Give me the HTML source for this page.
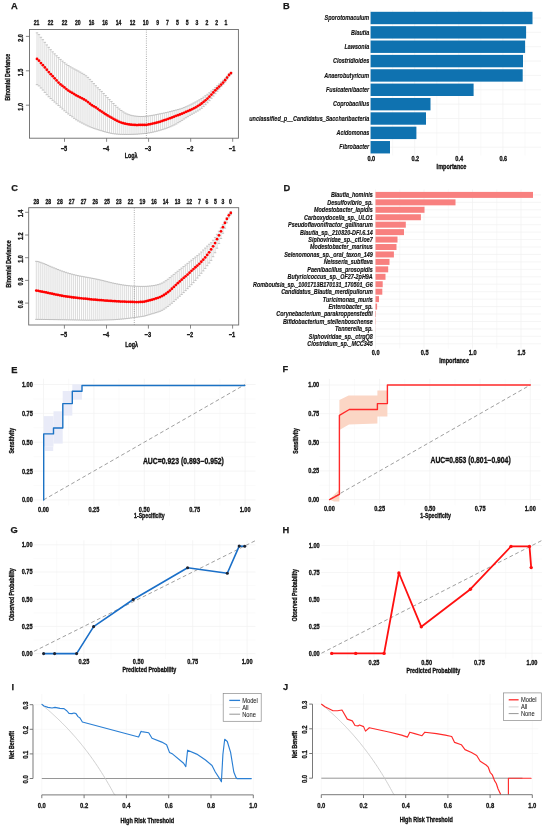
<!DOCTYPE html>
<html><head><meta charset="utf-8"><title>Figure</title>
<style>html,body{margin:0;padding:0;background:#fff;}svg{display:block;will-change:transform;}text{font-family:"Liberation Sans",sans-serif;}</style>
</head><body>
<svg width="550" height="828" viewBox="0 0 550 828" font-family="Liberation Sans, sans-serif">
<rect width="550" height="828" fill="#fff"/>
<path d="M37 32.84V84.66 M38.96 34.6V85.95 M40.92 37.28V88 M42.88 39.67V90.07 M44.84 42.34V92.38 M46.8 44.9V94.72 M48.76 47.33V96.75 M50.72 49.67V98.58 M52.68 51.84V100.33 M54.64 53.84V102.08 M56.6 55.73V103.82 M58.56 57.6V105.52 M60.52 59.41V107.21 M62.47 61.11V109 M64.43 62.7V110.78 M66.39 64.17V112.33 M68.35 65.53V113.97 M70.31 66.74V115.48 M72.27 67.87V116.84 M74.23 68.95V118.35 M76.19 69.96V119.77 M78.15 70.95V120.96 M80.11 72.05V122.04 M82.07 73.24V123.07 M84.03 74.36V124.08 M85.99 75.78V125.06 M87.95 77.38V125.99 M89.91 79.37V126.84 M91.87 81.45V127.61 M93.83 83.6V128.33 M95.79 85.71V129 M97.75 87.73V129.65 M99.71 89.59V130.25 M101.67 91.45V130.77 M103.63 93.47V131.44 M105.59 95.56V132.02 M107.55 97.57V132.5 M109.51 99.58V132.99 M111.46 101.57V133.41 M113.42 103.51V133.73 M115.38 105.43V133.98 M117.34 107.28V134.17 M119.3 108.96V134.3 M121.26 110.48V134.36 M123.22 111.85V134.39 M125.18 113.03V134.41 M127.14 113.98V134.42 M129.1 114.72V134.42 M131.06 115.3V134.39 M133.02 115.73V134.34 M134.98 116.04V134.27 M136.94 116.28V134.19 M138.9 116.44V134.03 M140.86 116.53V133.84 M142.82 116.49V133.68 M144.78 116.35V133.49 M146.74 116.17V133.25 M148.7 115.93V132.96 M150.66 115.64V132.61 M152.62 115.31V132.22 M154.58 114.95V131.78 M156.54 114.54V131.29 M158.49 114.12V130.77 M160.45 113.73V130.21 M162.41 113.35V129.62 M164.37 112.95V128.99 M166.33 112.51V128.3 M168.29 112.06V127.57 M170.25 111.56V126.78 M172.21 111.01V125.91 M174.17 110.55V125.02 M176.13 110.04V124.02 M178.09 109.5V122.76 M180.05 108.96V121.67 M182.01 108.35V120.4 M183.97 107.58V119.07 M185.93 106.78V117.8 M187.89 105.91V116.66 M189.85 104.99V115.36 M191.81 104V114.27 M193.77 102.98V113.19 M195.73 101.93V112.08 M197.69 100.86V111 M199.65 99.72V109.8 M201.61 98.47V108.32 M203.57 97.1V106.57 M205.53 95.7V104.7 M207.48 94.25V102.75 M209.44 92.76V100.65 M211.4 91.1V98.32 M213.36 89.41V96.04 M215.32 87.63V93.67 M217.28 85.76V91.22 M219.24 84.01V88.97 M221.2 82.06V86.57 M223.16 80.21V84.4 M225.12 78.28V82.05 M227.08 76.1V79.22 M229.04 73.87V76.27 M231 72.3V74.2" stroke="#d0d0d0" stroke-width="0.75" fill="none"/>
<path d="M35.8 32.84H38.2 M35.8 84.66H38.2 M37.76 34.6H40.16 M37.76 85.95H40.16 M39.72 37.28H42.12 M39.72 88H42.12 M41.68 39.67H44.08 M41.68 90.07H44.08 M43.64 42.34H46.04 M43.64 92.38H46.04 M45.6 44.9H48 M45.6 94.72H48 M47.56 47.33H49.96 M47.56 96.75H49.96 M49.52 49.67H51.92 M49.52 98.58H51.92 M51.48 51.84H53.88 M51.48 100.33H53.88 M53.44 53.84H55.84 M53.44 102.08H55.84 M55.4 55.73H57.8 M55.4 103.82H57.8 M57.36 57.6H59.76 M57.36 105.52H59.76 M59.32 59.41H61.72 M59.32 107.21H61.72 M61.27 61.11H63.67 M61.27 109H63.67 M63.23 62.7H65.63 M63.23 110.78H65.63 M65.19 64.17H67.59 M65.19 112.33H67.59 M67.15 65.53H69.55 M67.15 113.97H69.55 M69.11 66.74H71.51 M69.11 115.48H71.51 M71.07 67.87H73.47 M71.07 116.84H73.47 M73.03 68.95H75.43 M73.03 118.35H75.43 M74.99 69.96H77.39 M74.99 119.77H77.39 M76.95 70.95H79.35 M76.95 120.96H79.35 M78.91 72.05H81.31 M78.91 122.04H81.31 M80.87 73.24H83.27 M80.87 123.07H83.27 M82.83 74.36H85.23 M82.83 124.08H85.23 M84.79 75.78H87.19 M84.79 125.06H87.19 M86.75 77.38H89.15 M86.75 125.99H89.15 M88.71 79.37H91.11 M88.71 126.84H91.11 M90.67 81.45H93.07 M90.67 127.61H93.07 M92.63 83.6H95.03 M92.63 128.33H95.03 M94.59 85.71H96.99 M94.59 129H96.99 M96.55 87.73H98.95 M96.55 129.65H98.95 M98.51 89.59H100.91 M98.51 130.25H100.91 M100.47 91.45H102.87 M100.47 130.77H102.87 M102.43 93.47H104.83 M102.43 131.44H104.83 M104.39 95.56H106.79 M104.39 132.02H106.79 M106.35 97.57H108.75 M106.35 132.5H108.75 M108.31 99.58H110.71 M108.31 132.99H110.71 M110.26 101.57H112.66 M110.26 133.41H112.66 M112.22 103.51H114.62 M112.22 133.73H114.62 M114.18 105.43H116.58 M114.18 133.98H116.58 M116.14 107.28H118.54 M116.14 134.17H118.54 M118.1 108.96H120.5 M118.1 134.3H120.5 M120.06 110.48H122.46 M120.06 134.36H122.46 M122.02 111.85H124.42 M122.02 134.39H124.42 M123.98 113.03H126.38 M123.98 134.41H126.38 M125.94 113.98H128.34 M125.94 134.42H128.34 M127.9 114.72H130.3 M127.9 134.42H130.3 M129.86 115.3H132.26 M129.86 134.39H132.26 M131.82 115.73H134.22 M131.82 134.34H134.22 M133.78 116.04H136.18 M133.78 134.27H136.18 M135.74 116.28H138.14 M135.74 134.19H138.14 M137.7 116.44H140.1 M137.7 134.03H140.1 M139.66 116.53H142.06 M139.66 133.84H142.06 M141.62 116.49H144.02 M141.62 133.68H144.02 M143.58 116.35H145.98 M143.58 133.49H145.98 M145.54 116.17H147.94 M145.54 133.25H147.94 M147.5 115.93H149.9 M147.5 132.96H149.9 M149.46 115.64H151.86 M149.46 132.61H151.86 M151.42 115.31H153.82 M151.42 132.22H153.82 M153.38 114.95H155.78 M153.38 131.78H155.78 M155.34 114.54H157.74 M155.34 131.29H157.74 M157.29 114.12H159.69 M157.29 130.77H159.69 M159.25 113.73H161.65 M159.25 130.21H161.65 M161.21 113.35H163.61 M161.21 129.62H163.61 M163.17 112.95H165.57 M163.17 128.99H165.57 M165.13 112.51H167.53 M165.13 128.3H167.53 M167.09 112.06H169.49 M167.09 127.57H169.49 M169.05 111.56H171.45 M169.05 126.78H171.45 M171.01 111.01H173.41 M171.01 125.91H173.41 M172.97 110.55H175.37 M172.97 125.02H175.37 M174.93 110.04H177.33 M174.93 124.02H177.33 M176.89 109.5H179.29 M176.89 122.76H179.29 M178.85 108.96H181.25 M178.85 121.67H181.25 M180.81 108.35H183.21 M180.81 120.4H183.21 M182.77 107.58H185.17 M182.77 119.07H185.17 M184.73 106.78H187.13 M184.73 117.8H187.13 M186.69 105.91H189.09 M186.69 116.66H189.09 M188.65 104.99H191.05 M188.65 115.36H191.05 M190.61 104H193.01 M190.61 114.27H193.01 M192.57 102.98H194.97 M192.57 113.19H194.97 M194.53 101.93H196.93 M194.53 112.08H196.93 M196.49 100.86H198.89 M196.49 111H198.89 M198.45 99.72H200.85 M198.45 109.8H200.85 M200.41 98.47H202.81 M200.41 108.32H202.81 M202.37 97.1H204.77 M202.37 106.57H204.77 M204.33 95.7H206.73 M204.33 104.7H206.73 M206.28 94.25H208.68 M206.28 102.75H208.68 M208.24 92.76H210.64 M208.24 100.65H210.64 M210.2 91.1H212.6 M210.2 98.32H212.6 M212.16 89.41H214.56 M212.16 96.04H214.56 M214.12 87.63H216.52 M214.12 93.67H216.52 M216.08 85.76H218.48 M216.08 91.22H218.48 M218.04 84.01H220.44 M218.04 88.97H220.44 M220 82.06H222.4 M220 86.57H222.4 M221.96 80.21H224.36 M221.96 84.4H224.36 M223.92 78.28H226.32 M223.92 82.05H226.32 M225.88 76.1H228.28 M225.88 79.22H228.28 M227.84 73.87H230.24 M227.84 76.27H230.24 M229.8 72.3H232.2 M229.8 74.2H232.2" stroke="#a8a8a8" stroke-width="0.65" fill="none"/>
<line x1="146.4" y1="29.5" x2="146.4" y2="138.2" stroke="#8a8a8a" stroke-width="0.75" stroke-dasharray="0.9,1.3"/>
<g fill="#ff0000"><circle cx="37" cy="58.95" r="1.38"/><circle cx="38.96" cy="60.67" r="1.38"/><circle cx="40.92" cy="63.01" r="1.38"/><circle cx="42.88" cy="65.19" r="1.38"/><circle cx="44.84" cy="67.43" r="1.38"/><circle cx="46.8" cy="69.75" r="1.38"/><circle cx="48.76" cy="72.05" r="1.38"/><circle cx="50.72" cy="74.15" r="1.38"/><circle cx="52.68" cy="76.17" r="1.38"/><circle cx="54.64" cy="78.29" r="1.38"/><circle cx="56.6" cy="80.4" r="1.38"/><circle cx="58.56" cy="82.51" r="1.38"/><circle cx="60.52" cy="84.43" r="1.38"/><circle cx="62.47" cy="85.91" r="1.38"/><circle cx="64.43" cy="87.4" r="1.38"/><circle cx="66.39" cy="89.05" r="1.38"/><circle cx="68.35" cy="90.61" r="1.38"/><circle cx="70.31" cy="91.83" r="1.38"/><circle cx="72.27" cy="92.95" r="1.38"/><circle cx="74.23" cy="94.11" r="1.38"/><circle cx="76.19" cy="95.28" r="1.38"/><circle cx="78.15" cy="96.35" r="1.38"/><circle cx="80.11" cy="97.33" r="1.38"/><circle cx="82.07" cy="98.35" r="1.38"/><circle cx="84.03" cy="99.43" r="1.38"/><circle cx="85.99" cy="100.62" r="1.38"/><circle cx="87.95" cy="102.1" r="1.38"/><circle cx="89.91" cy="103.74" r="1.38"/><circle cx="91.87" cy="105.14" r="1.38"/><circle cx="93.83" cy="106.29" r="1.38"/><circle cx="95.79" cy="107.49" r="1.38"/><circle cx="97.75" cy="108.86" r="1.38"/><circle cx="99.71" cy="110.29" r="1.38"/><circle cx="101.67" cy="111.6" r="1.38"/><circle cx="103.63" cy="112.93" r="1.38"/><circle cx="105.59" cy="114.23" r="1.38"/><circle cx="107.55" cy="115.4" r="1.38"/><circle cx="109.51" cy="116.59" r="1.38"/><circle cx="111.46" cy="117.74" r="1.38"/><circle cx="113.42" cy="118.86" r="1.38"/><circle cx="115.38" cy="119.95" r="1.38"/><circle cx="117.34" cy="120.94" r="1.38"/><circle cx="119.3" cy="121.78" r="1.38"/><circle cx="121.26" cy="122.52" r="1.38"/><circle cx="123.22" cy="123.15" r="1.38"/><circle cx="125.18" cy="123.68" r="1.38"/><circle cx="127.14" cy="124.09" r="1.38"/><circle cx="129.1" cy="124.41" r="1.38"/><circle cx="131.06" cy="124.67" r="1.38"/><circle cx="133.02" cy="124.84" r="1.38"/><circle cx="134.98" cy="124.94" r="1.38"/><circle cx="136.94" cy="125.01" r="1.38"/><circle cx="138.9" cy="124.95" r="1.38"/><circle cx="140.86" cy="124.9" r="1.38"/><circle cx="142.82" cy="124.92" r="1.38"/><circle cx="144.78" cy="124.9" r="1.38"/><circle cx="146.74" cy="124.76" r="1.38"/><circle cx="148.7" cy="124.46" r="1.38"/><circle cx="150.66" cy="124.06" r="1.38"/><circle cx="152.62" cy="123.62" r="1.38"/><circle cx="154.58" cy="123.18" r="1.38"/><circle cx="156.54" cy="122.7" r="1.38"/><circle cx="158.49" cy="122.18" r="1.38"/><circle cx="160.45" cy="121.57" r="1.38"/><circle cx="162.41" cy="120.89" r="1.38"/><circle cx="164.37" cy="120.19" r="1.38"/><circle cx="166.33" cy="119.51" r="1.38"/><circle cx="168.29" cy="118.83" r="1.38"/><circle cx="170.25" cy="118.17" r="1.38"/><circle cx="172.21" cy="117.48" r="1.38"/><circle cx="174.17" cy="116.63" r="1.38"/><circle cx="176.13" cy="115.85" r="1.38"/><circle cx="178.09" cy="115.16" r="1.38"/><circle cx="180.05" cy="114.43" r="1.38"/><circle cx="182.01" cy="113.66" r="1.38"/><circle cx="183.97" cy="112.84" r="1.38"/><circle cx="185.93" cy="111.99" r="1.38"/><circle cx="187.89" cy="111.12" r="1.38"/><circle cx="189.85" cy="110.25" r="1.38"/><circle cx="191.81" cy="109.35" r="1.38"/><circle cx="193.77" cy="108.37" r="1.38"/><circle cx="195.73" cy="107.28" r="1.38"/><circle cx="197.69" cy="106.09" r="1.38"/><circle cx="199.65" cy="104.89" r="1.38"/><circle cx="201.61" cy="103.5" r="1.38"/><circle cx="203.57" cy="101.99" r="1.38"/><circle cx="205.53" cy="100.32" r="1.38"/><circle cx="207.48" cy="98.56" r="1.38"/><circle cx="209.44" cy="96.66" r="1.38"/><circle cx="211.4" cy="94.59" r="1.38"/><circle cx="213.36" cy="92.42" r="1.38"/><circle cx="215.32" cy="90.37" r="1.38"/><circle cx="217.28" cy="88.48" r="1.38"/><circle cx="219.24" cy="86.56" r="1.38"/><circle cx="221.2" cy="84.59" r="1.38"/><circle cx="223.16" cy="82.53" r="1.38"/><circle cx="225.12" cy="80.21" r="1.38"/><circle cx="227.08" cy="77.59" r="1.38"/><circle cx="229.04" cy="74.95" r="1.38"/><circle cx="231" cy="73.1" r="1.38"/></g>
<rect x="29.5" y="29.5" width="208.9" height="108.7" fill="none" stroke="#6a6a6a" stroke-width="0.9"/>
<line x1="25.9" y1="36.4" x2="29.5" y2="36.4" stroke="#6a6a6a" stroke-width="0.8"/>
<text transform="translate(23.09,38) rotate(-90) scale(0.78,1)" font-size="7.1" text-anchor="middle" font-weight="bold" font-style="normal" fill="#111" stroke="#111" stroke-width="0.32">2.0</text>
<line x1="25.9" y1="70.8" x2="29.5" y2="70.8" stroke="#6a6a6a" stroke-width="0.8"/>
<text transform="translate(23.09,72.4) rotate(-90) scale(0.78,1)" font-size="7.1" text-anchor="middle" font-weight="bold" font-style="normal" fill="#111" stroke="#111" stroke-width="0.32">1.5</text>
<line x1="25.9" y1="105.2" x2="29.5" y2="105.2" stroke="#6a6a6a" stroke-width="0.8"/>
<text transform="translate(23.09,106.8) rotate(-90) scale(0.78,1)" font-size="7.1" text-anchor="middle" font-weight="bold" font-style="normal" fill="#111" stroke="#111" stroke-width="0.32">1.0</text>
<line x1="64.5" y1="138.2" x2="64.5" y2="141.8" stroke="#6a6a6a" stroke-width="0.8"/>
<text transform="translate(63.9,150.89) scale(0.8,1)" font-size="7.1" text-anchor="middle" font-weight="bold" font-style="normal" fill="#111" stroke="#111" stroke-width="0.32">−5</text>
<line x1="106.6" y1="138.2" x2="106.6" y2="141.8" stroke="#6a6a6a" stroke-width="0.8"/>
<text transform="translate(106,150.89) scale(0.8,1)" font-size="7.1" text-anchor="middle" font-weight="bold" font-style="normal" fill="#111" stroke="#111" stroke-width="0.32">−4</text>
<line x1="148.6" y1="138.2" x2="148.6" y2="141.8" stroke="#6a6a6a" stroke-width="0.8"/>
<text transform="translate(148,150.89) scale(0.8,1)" font-size="7.1" text-anchor="middle" font-weight="bold" font-style="normal" fill="#111" stroke="#111" stroke-width="0.32">−3</text>
<line x1="190.7" y1="138.2" x2="190.7" y2="141.8" stroke="#6a6a6a" stroke-width="0.8"/>
<text transform="translate(190.1,150.89) scale(0.8,1)" font-size="7.1" text-anchor="middle" font-weight="bold" font-style="normal" fill="#111" stroke="#111" stroke-width="0.32">−2</text>
<line x1="232.7" y1="138.2" x2="232.7" y2="141.8" stroke="#6a6a6a" stroke-width="0.8"/>
<text transform="translate(232.1,150.89) scale(0.8,1)" font-size="7.1" text-anchor="middle" font-weight="bold" font-style="normal" fill="#111" stroke="#111" stroke-width="0.32">−1</text>
<text transform="translate(36.6,25.43) scale(0.68,1)" font-size="7.5" text-anchor="middle" font-weight="bold" font-style="normal" fill="#111" stroke="#111" stroke-width="0.32">21</text>
<text transform="translate(50.5,25.43) scale(0.68,1)" font-size="7.5" text-anchor="middle" font-weight="bold" font-style="normal" fill="#111" stroke="#111" stroke-width="0.32">22</text>
<text transform="translate(64.5,25.43) scale(0.68,1)" font-size="7.5" text-anchor="middle" font-weight="bold" font-style="normal" fill="#111" stroke="#111" stroke-width="0.32">22</text>
<text transform="translate(77.8,25.43) scale(0.68,1)" font-size="7.5" text-anchor="middle" font-weight="bold" font-style="normal" fill="#111" stroke="#111" stroke-width="0.32">20</text>
<text transform="translate(91.5,25.43) scale(0.68,1)" font-size="7.5" text-anchor="middle" font-weight="bold" font-style="normal" fill="#111" stroke="#111" stroke-width="0.32">16</text>
<text transform="translate(105,25.43) scale(0.68,1)" font-size="7.5" text-anchor="middle" font-weight="bold" font-style="normal" fill="#111" stroke="#111" stroke-width="0.32">16</text>
<text transform="translate(118.5,25.43) scale(0.68,1)" font-size="7.5" text-anchor="middle" font-weight="bold" font-style="normal" fill="#111" stroke="#111" stroke-width="0.32">14</text>
<text transform="translate(132.6,25.43) scale(0.68,1)" font-size="7.5" text-anchor="middle" font-weight="bold" font-style="normal" fill="#111" stroke="#111" stroke-width="0.32">12</text>
<text transform="translate(145.7,25.43) scale(0.68,1)" font-size="7.5" text-anchor="middle" font-weight="bold" font-style="normal" fill="#111" stroke="#111" stroke-width="0.32">10</text>
<text transform="translate(157.7,25.43) scale(0.68,1)" font-size="7.5" text-anchor="middle" font-weight="bold" font-style="normal" fill="#111" stroke="#111" stroke-width="0.32">9</text>
<text transform="translate(167.5,25.43) scale(0.68,1)" font-size="7.5" text-anchor="middle" font-weight="bold" font-style="normal" fill="#111" stroke="#111" stroke-width="0.32">7</text>
<text transform="translate(177.3,25.43) scale(0.68,1)" font-size="7.5" text-anchor="middle" font-weight="bold" font-style="normal" fill="#111" stroke="#111" stroke-width="0.32">5</text>
<text transform="translate(187.2,25.43) scale(0.68,1)" font-size="7.5" text-anchor="middle" font-weight="bold" font-style="normal" fill="#111" stroke="#111" stroke-width="0.32">5</text>
<text transform="translate(197,25.43) scale(0.68,1)" font-size="7.5" text-anchor="middle" font-weight="bold" font-style="normal" fill="#111" stroke="#111" stroke-width="0.32">3</text>
<text transform="translate(206.8,25.43) scale(0.68,1)" font-size="7.5" text-anchor="middle" font-weight="bold" font-style="normal" fill="#111" stroke="#111" stroke-width="0.32">2</text>
<text transform="translate(216.6,25.43) scale(0.68,1)" font-size="7.5" text-anchor="middle" font-weight="bold" font-style="normal" fill="#111" stroke="#111" stroke-width="0.32">2</text>
<text transform="translate(226,25.43) scale(0.68,1)" font-size="7.5" text-anchor="middle" font-weight="bold" font-style="normal" fill="#111" stroke="#111" stroke-width="0.32">1</text>
<text transform="translate(131,158.21) scale(0.85,1)" font-size="6.3" text-anchor="middle" font-weight="bold" font-style="normal" fill="#111" stroke="#111" stroke-width="0.32">Logλ</text>
<text transform="translate(10.34,77.2) rotate(-90) scale(0.82,1)" font-size="6.4" text-anchor="middle" font-weight="bold" font-style="normal" fill="#111" stroke="#111" stroke-width="0.32">Binomial Deviance</text>
<text x="11" y="9.1" font-size="9.3" font-weight="bold" fill="#1a1a1a" stroke="#1a1a1a" stroke-width="0.25">A</text>
<path d="M36.3 261.34V319.4 M38.26 261.64V319.42 M40.23 262.25V319.43 M42.19 262.98V319.45 M44.16 263.69V319.47 M46.12 264.51V319.5 M48.09 265.39V319.52 M50.05 266.27V319.55 M52.02 267.09V319.57 M53.98 267.88V319.6 M55.95 268.69V319.63 M57.91 269.49V319.67 M59.88 270.26V319.7 M61.84 270.99V319.73 M63.81 271.68V319.76 M65.77 272.33V319.8 M67.73 272.95V319.84 M69.7 273.54V319.88 M71.66 274.09V319.92 M73.63 274.61V319.96 M75.59 275.08V320.01 M77.56 275.53V320.05 M79.52 275.93V320.08 M81.49 276.3V320.12 M83.45 276.64V320.15 M85.42 277.03V320.17 M87.38 277.37V320.19 M89.35 277.73V320.2 M91.31 278.11V320.2 M93.27 278.46V320.19 M95.24 278.86V320.18 M97.2 279.28V320.15 M99.17 279.71V320.12 M101.13 280.15V320.08 M103.1 280.62V320.03 M105.06 281.12V319.98 M107.03 281.63V319.93 M108.99 282.13V319.88 M110.96 282.61V319.82 M112.92 283.05V319.74 M114.89 283.46V319.62 M116.85 283.86V319.48 M118.82 284.24V319.34 M120.78 284.59V319.18 M122.74 284.91V319 M124.71 285.19V318.8 M126.67 285.44V318.58 M128.64 285.67V318.34 M130.6 285.86V318.09 M132.57 286.02V317.84 M134.53 286.16V317.57 M136.5 286.26V317.3 M138.46 286.33V317.01 M140.43 286.38V316.72 M142.39 286.4V316.42 M144.36 286.4V316.12 M146.32 286.33V315.54 M148.28 286.18V314.93 M150.25 285.97V314.33 M152.21 285.75V313.76 M154.18 285.46V313.2 M156.14 285.06V312.6 M158.11 284.58V311.99 M160.07 283.94V311.27 M162.04 283.06V310.33 M164 281.96V309.18 M165.97 280.7V307.9 M167.93 279.24V306.47 M169.9 277.6V304.9 M171.86 275.95V303.25 M173.83 274.38V301.54 M175.79 272.8V299.76 M177.75 271.23V297.99 M179.72 269.67V296.24 M181.68 268.11V294.46 M183.65 266.55V292.59 M185.61 264.98V290.62 M187.58 263.4V288.63 M189.54 261.8V286.66 M191.51 260.2V284.7 M193.47 258.6V282.64 M195.44 257.09V280.4 M197.4 255.6V278.04 M199.37 253.96V275.68 M201.33 252.03V273.29 M203.29 250.03V270.92 M205.26 248.08V268.42 M207.22 246.11V265.69 M209.19 244.29V263.03 M211.15 242.72V260.38 M213.12 240.24V256.68 M215.08 237.45V252.73 M217.05 234.31V248.23 M219.01 231.2V243.56 M220.98 227.98V238.5 M222.94 224.64V233.27 M224.91 221.23V228.21 M226.87 217.41V222.81 M228.84 213.86V217.87 M230.8 211.57V214.68" stroke="#d0d0d0" stroke-width="0.75" fill="none"/>
<path d="M35.1 261.34H37.5 M35.1 319.4H37.5 M37.06 261.64H39.46 M37.06 319.42H39.46 M39.03 262.25H41.43 M39.03 319.43H41.43 M40.99 262.98H43.39 M40.99 319.45H43.39 M42.96 263.69H45.36 M42.96 319.47H45.36 M44.92 264.51H47.32 M44.92 319.5H47.32 M46.89 265.39H49.29 M46.89 319.52H49.29 M48.85 266.27H51.25 M48.85 319.55H51.25 M50.82 267.09H53.22 M50.82 319.57H53.22 M52.78 267.88H55.18 M52.78 319.6H55.18 M54.75 268.69H57.15 M54.75 319.63H57.15 M56.71 269.49H59.11 M56.71 319.67H59.11 M58.68 270.26H61.08 M58.68 319.7H61.08 M60.64 270.99H63.04 M60.64 319.73H63.04 M62.61 271.68H65.01 M62.61 319.76H65.01 M64.57 272.33H66.97 M64.57 319.8H66.97 M66.53 272.95H68.93 M66.53 319.84H68.93 M68.5 273.54H70.9 M68.5 319.88H70.9 M70.46 274.09H72.86 M70.46 319.92H72.86 M72.43 274.61H74.83 M72.43 319.96H74.83 M74.39 275.08H76.79 M74.39 320.01H76.79 M76.36 275.53H78.76 M76.36 320.05H78.76 M78.32 275.93H80.72 M78.32 320.08H80.72 M80.29 276.3H82.69 M80.29 320.12H82.69 M82.25 276.64H84.65 M82.25 320.15H84.65 M84.22 277.03H86.62 M84.22 320.17H86.62 M86.18 277.37H88.58 M86.18 320.19H88.58 M88.15 277.73H90.55 M88.15 320.2H90.55 M90.11 278.11H92.51 M90.11 320.2H92.51 M92.07 278.46H94.47 M92.07 320.19H94.47 M94.04 278.86H96.44 M94.04 320.18H96.44 M96 279.28H98.4 M96 320.15H98.4 M97.97 279.71H100.37 M97.97 320.12H100.37 M99.93 280.15H102.33 M99.93 320.08H102.33 M101.9 280.62H104.3 M101.9 320.03H104.3 M103.86 281.12H106.26 M103.86 319.98H106.26 M105.83 281.63H108.23 M105.83 319.93H108.23 M107.79 282.13H110.19 M107.79 319.88H110.19 M109.76 282.61H112.16 M109.76 319.82H112.16 M111.72 283.05H114.12 M111.72 319.74H114.12 M113.69 283.46H116.09 M113.69 319.62H116.09 M115.65 283.86H118.05 M115.65 319.48H118.05 M117.62 284.24H120.02 M117.62 319.34H120.02 M119.58 284.59H121.98 M119.58 319.18H121.98 M121.54 284.91H123.94 M121.54 319H123.94 M123.51 285.19H125.91 M123.51 318.8H125.91 M125.47 285.44H127.87 M125.47 318.58H127.87 M127.44 285.67H129.84 M127.44 318.34H129.84 M129.4 285.86H131.8 M129.4 318.09H131.8 M131.37 286.02H133.77 M131.37 317.84H133.77 M133.33 286.16H135.73 M133.33 317.57H135.73 M135.3 286.26H137.7 M135.3 317.3H137.7 M137.26 286.33H139.66 M137.26 317.01H139.66 M139.23 286.38H141.63 M139.23 316.72H141.63 M141.19 286.4H143.59 M141.19 316.42H143.59 M143.16 286.4H145.56 M143.16 316.12H145.56 M145.12 286.33H147.52 M145.12 315.54H147.52 M147.08 286.18H149.48 M147.08 314.93H149.48 M149.05 285.97H151.45 M149.05 314.33H151.45 M151.01 285.75H153.41 M151.01 313.76H153.41 M152.98 285.46H155.38 M152.98 313.2H155.38 M154.94 285.06H157.34 M154.94 312.6H157.34 M156.91 284.58H159.31 M156.91 311.99H159.31 M158.87 283.94H161.27 M158.87 311.27H161.27 M160.84 283.06H163.24 M160.84 310.33H163.24 M162.8 281.96H165.2 M162.8 309.18H165.2 M164.77 280.7H167.17 M164.77 307.9H167.17 M166.73 279.24H169.13 M166.73 306.47H169.13 M168.7 277.6H171.1 M168.7 304.9H171.1 M170.66 275.95H173.06 M170.66 303.25H173.06 M172.63 274.38H175.03 M172.63 301.54H175.03 M174.59 272.8H176.99 M174.59 299.76H176.99 M176.55 271.23H178.95 M176.55 297.99H178.95 M178.52 269.67H180.92 M178.52 296.24H180.92 M180.48 268.11H182.88 M180.48 294.46H182.88 M182.45 266.55H184.85 M182.45 292.59H184.85 M184.41 264.98H186.81 M184.41 290.62H186.81 M186.38 263.4H188.78 M186.38 288.63H188.78 M188.34 261.8H190.74 M188.34 286.66H190.74 M190.31 260.2H192.71 M190.31 284.7H192.71 M192.27 258.6H194.67 M192.27 282.64H194.67 M194.24 257.09H196.64 M194.24 280.4H196.64 M196.2 255.6H198.6 M196.2 278.04H198.6 M198.17 253.96H200.57 M198.17 275.68H200.57 M200.13 252.03H202.53 M200.13 273.29H202.53 M202.09 250.03H204.49 M202.09 270.92H204.49 M204.06 248.08H206.46 M204.06 268.42H206.46 M206.02 246.11H208.42 M206.02 265.69H208.42 M207.99 244.29H210.39 M207.99 263.03H210.39 M209.95 242.72H212.35 M209.95 260.38H212.35 M211.92 240.24H214.32 M211.92 256.68H214.32 M213.88 237.45H216.28 M213.88 252.73H216.28 M215.85 234.31H218.25 M215.85 248.23H218.25 M217.81 231.2H220.21 M217.81 243.56H220.21 M219.78 227.98H222.18 M219.78 238.5H222.18 M221.74 224.64H224.14 M221.74 233.27H224.14 M223.71 221.23H226.11 M223.71 228.21H226.11 M225.67 217.41H228.07 M225.67 222.81H228.07 M227.64 213.86H230.04 M227.64 217.87H230.04 M229.6 211.57H232 M229.6 214.68H232" stroke="#a8a8a8" stroke-width="0.65" fill="none"/>
<line x1="134.3" y1="207.7" x2="134.3" y2="325" stroke="#8a8a8a" stroke-width="0.75" stroke-dasharray="0.9,1.3"/>
<g fill="#ff0000"><circle cx="36.3" cy="290.53" r="1.38"/><circle cx="38.26" cy="290.83" r="1.38"/><circle cx="40.23" cy="291.29" r="1.38"/><circle cx="42.19" cy="291.71" r="1.38"/><circle cx="44.16" cy="292.07" r="1.38"/><circle cx="46.12" cy="292.48" r="1.38"/><circle cx="48.09" cy="292.9" r="1.38"/><circle cx="50.05" cy="293.33" r="1.38"/><circle cx="52.02" cy="293.74" r="1.38"/><circle cx="53.98" cy="294.15" r="1.38"/><circle cx="55.95" cy="294.56" r="1.38"/><circle cx="57.91" cy="294.97" r="1.38"/><circle cx="59.88" cy="295.37" r="1.38"/><circle cx="61.84" cy="295.75" r="1.38"/><circle cx="63.81" cy="296.09" r="1.38"/><circle cx="65.77" cy="296.41" r="1.38"/><circle cx="67.73" cy="296.71" r="1.38"/><circle cx="69.7" cy="296.99" r="1.38"/><circle cx="71.66" cy="297.25" r="1.38"/><circle cx="73.63" cy="297.5" r="1.38"/><circle cx="75.59" cy="297.74" r="1.38"/><circle cx="77.56" cy="297.95" r="1.38"/><circle cx="79.52" cy="298.15" r="1.38"/><circle cx="81.49" cy="298.34" r="1.38"/><circle cx="83.45" cy="298.51" r="1.38"/><circle cx="85.42" cy="298.74" r="1.38"/><circle cx="87.38" cy="298.98" r="1.38"/><circle cx="89.35" cy="299.21" r="1.38"/><circle cx="91.31" cy="299.4" r="1.38"/><circle cx="93.27" cy="299.56" r="1.38"/><circle cx="95.24" cy="299.73" r="1.38"/><circle cx="97.2" cy="299.89" r="1.38"/><circle cx="99.17" cy="300.06" r="1.38"/><circle cx="101.13" cy="300.22" r="1.38"/><circle cx="103.1" cy="300.37" r="1.38"/><circle cx="105.06" cy="300.52" r="1.38"/><circle cx="107.03" cy="300.67" r="1.38"/><circle cx="108.99" cy="300.81" r="1.38"/><circle cx="110.96" cy="300.94" r="1.38"/><circle cx="112.92" cy="301.07" r="1.38"/><circle cx="114.89" cy="301.19" r="1.38"/><circle cx="116.85" cy="301.3" r="1.38"/><circle cx="118.82" cy="301.41" r="1.38"/><circle cx="120.78" cy="301.51" r="1.38"/><circle cx="122.74" cy="301.6" r="1.38"/><circle cx="124.71" cy="301.69" r="1.38"/><circle cx="126.67" cy="301.78" r="1.38"/><circle cx="128.64" cy="301.86" r="1.38"/><circle cx="130.6" cy="301.92" r="1.38"/><circle cx="132.57" cy="301.98" r="1.38"/><circle cx="134.53" cy="302.02" r="1.38"/><circle cx="136.5" cy="302.05" r="1.38"/><circle cx="138.46" cy="302.04" r="1.38"/><circle cx="140.43" cy="301.98" r="1.38"/><circle cx="142.39" cy="301.88" r="1.38"/><circle cx="144.36" cy="301.63" r="1.38"/><circle cx="146.32" cy="301.21" r="1.38"/><circle cx="148.28" cy="300.68" r="1.38"/><circle cx="150.25" cy="300.13" r="1.38"/><circle cx="152.21" cy="299.63" r="1.38"/><circle cx="154.18" cy="299.1" r="1.38"/><circle cx="156.14" cy="298.49" r="1.38"/><circle cx="158.11" cy="297.84" r="1.38"/><circle cx="160.07" cy="297.08" r="1.38"/><circle cx="162.04" cy="296.12" r="1.38"/><circle cx="164" cy="295" r="1.38"/><circle cx="165.97" cy="293.71" r="1.38"/><circle cx="167.93" cy="292.21" r="1.38"/><circle cx="169.9" cy="290.52" r="1.38"/><circle cx="171.86" cy="288.75" r="1.38"/><circle cx="173.83" cy="286.91" r="1.38"/><circle cx="175.79" cy="285.02" r="1.38"/><circle cx="177.75" cy="283.18" r="1.38"/><circle cx="179.72" cy="281.42" r="1.38"/><circle cx="181.68" cy="279.7" r="1.38"/><circle cx="183.65" cy="277.98" r="1.38"/><circle cx="185.61" cy="276.28" r="1.38"/><circle cx="187.58" cy="274.56" r="1.38"/><circle cx="189.54" cy="272.75" r="1.38"/><circle cx="191.51" cy="270.87" r="1.38"/><circle cx="193.47" cy="269.02" r="1.38"/><circle cx="195.44" cy="267.25" r="1.38"/><circle cx="197.4" cy="265.52" r="1.38"/><circle cx="199.37" cy="263.8" r="1.38"/><circle cx="201.33" cy="261.75" r="1.38"/><circle cx="203.29" cy="259.67" r="1.38"/><circle cx="205.26" cy="257.43" r="1.38"/><circle cx="207.22" cy="254.96" r="1.38"/><circle cx="209.19" cy="252.3" r="1.38"/><circle cx="211.15" cy="249.42" r="1.38"/><circle cx="213.12" cy="246.34" r="1.38"/><circle cx="215.08" cy="243.05" r="1.38"/><circle cx="217.05" cy="239.24" r="1.38"/><circle cx="219.01" cy="235.28" r="1.38"/><circle cx="220.98" cy="231.28" r="1.38"/><circle cx="222.94" cy="227.19" r="1.38"/><circle cx="224.91" cy="222.94" r="1.38"/><circle cx="226.87" cy="218.99" r="1.38"/><circle cx="228.84" cy="215.35" r="1.38"/><circle cx="230.8" cy="212.99" r="1.38"/></g>
<rect x="28.7" y="207.7" width="210" height="117.3" fill="none" stroke="#6a6a6a" stroke-width="0.9"/>
<line x1="25.1" y1="212.3" x2="28.7" y2="212.3" stroke="#6a6a6a" stroke-width="0.8"/>
<text transform="translate(22.68,213.5) rotate(-90) scale(0.78,1)" font-size="7.1" text-anchor="middle" font-weight="bold" font-style="normal" fill="#111" stroke="#111" stroke-width="0.32">1.4</text>
<line x1="25.1" y1="235" x2="28.7" y2="235" stroke="#6a6a6a" stroke-width="0.8"/>
<text transform="translate(22.68,236.2) rotate(-90) scale(0.78,1)" font-size="7.1" text-anchor="middle" font-weight="bold" font-style="normal" fill="#111" stroke="#111" stroke-width="0.32">1.2</text>
<line x1="25.1" y1="257.7" x2="28.7" y2="257.7" stroke="#6a6a6a" stroke-width="0.8"/>
<text transform="translate(22.68,258.9) rotate(-90) scale(0.78,1)" font-size="7.1" text-anchor="middle" font-weight="bold" font-style="normal" fill="#111" stroke="#111" stroke-width="0.32">1.0</text>
<line x1="25.1" y1="280.4" x2="28.7" y2="280.4" stroke="#6a6a6a" stroke-width="0.8"/>
<text transform="translate(22.68,281.6) rotate(-90) scale(0.78,1)" font-size="7.1" text-anchor="middle" font-weight="bold" font-style="normal" fill="#111" stroke="#111" stroke-width="0.32">0.8</text>
<line x1="25.1" y1="303.1" x2="28.7" y2="303.1" stroke="#6a6a6a" stroke-width="0.8"/>
<text transform="translate(22.68,304.3) rotate(-90) scale(0.78,1)" font-size="7.1" text-anchor="middle" font-weight="bold" font-style="normal" fill="#111" stroke="#111" stroke-width="0.32">0.6</text>
<line x1="64.4" y1="325" x2="64.4" y2="328.6" stroke="#6a6a6a" stroke-width="0.8"/>
<text transform="translate(63.8,336.79) scale(0.8,1)" font-size="7.1" text-anchor="middle" font-weight="bold" font-style="normal" fill="#111" stroke="#111" stroke-width="0.32">−5</text>
<line x1="106.5" y1="325" x2="106.5" y2="328.6" stroke="#6a6a6a" stroke-width="0.8"/>
<text transform="translate(105.9,336.79) scale(0.8,1)" font-size="7.1" text-anchor="middle" font-weight="bold" font-style="normal" fill="#111" stroke="#111" stroke-width="0.32">−4</text>
<line x1="148.4" y1="325" x2="148.4" y2="328.6" stroke="#6a6a6a" stroke-width="0.8"/>
<text transform="translate(147.8,336.79) scale(0.8,1)" font-size="7.1" text-anchor="middle" font-weight="bold" font-style="normal" fill="#111" stroke="#111" stroke-width="0.32">−3</text>
<line x1="190.5" y1="325" x2="190.5" y2="328.6" stroke="#6a6a6a" stroke-width="0.8"/>
<text transform="translate(189.9,336.79) scale(0.8,1)" font-size="7.1" text-anchor="middle" font-weight="bold" font-style="normal" fill="#111" stroke="#111" stroke-width="0.32">−2</text>
<line x1="232.6" y1="325" x2="232.6" y2="328.6" stroke="#6a6a6a" stroke-width="0.8"/>
<text transform="translate(232,336.79) scale(0.8,1)" font-size="7.1" text-anchor="middle" font-weight="bold" font-style="normal" fill="#111" stroke="#111" stroke-width="0.32">−1</text>
<text transform="translate(36.3,203.82) scale(0.68,1)" font-size="7.5" text-anchor="middle" font-weight="bold" font-style="normal" fill="#111" stroke="#111" stroke-width="0.32">28</text>
<text transform="translate(48.3,203.82) scale(0.68,1)" font-size="7.5" text-anchor="middle" font-weight="bold" font-style="normal" fill="#111" stroke="#111" stroke-width="0.32">28</text>
<text transform="translate(59.9,203.82) scale(0.68,1)" font-size="7.5" text-anchor="middle" font-weight="bold" font-style="normal" fill="#111" stroke="#111" stroke-width="0.32">28</text>
<text transform="translate(71.7,203.82) scale(0.68,1)" font-size="7.5" text-anchor="middle" font-weight="bold" font-style="normal" fill="#111" stroke="#111" stroke-width="0.32">27</text>
<text transform="translate(83.5,203.82) scale(0.68,1)" font-size="7.5" text-anchor="middle" font-weight="bold" font-style="normal" fill="#111" stroke="#111" stroke-width="0.32">27</text>
<text transform="translate(95.3,203.82) scale(0.68,1)" font-size="7.5" text-anchor="middle" font-weight="bold" font-style="normal" fill="#111" stroke="#111" stroke-width="0.32">26</text>
<text transform="translate(107,203.82) scale(0.68,1)" font-size="7.5" text-anchor="middle" font-weight="bold" font-style="normal" fill="#111" stroke="#111" stroke-width="0.32">25</text>
<text transform="translate(118.8,203.82) scale(0.68,1)" font-size="7.5" text-anchor="middle" font-weight="bold" font-style="normal" fill="#111" stroke="#111" stroke-width="0.32">23</text>
<text transform="translate(130.6,203.82) scale(0.68,1)" font-size="7.5" text-anchor="middle" font-weight="bold" font-style="normal" fill="#111" stroke="#111" stroke-width="0.32">22</text>
<text transform="translate(142.4,203.82) scale(0.68,1)" font-size="7.5" text-anchor="middle" font-weight="bold" font-style="normal" fill="#111" stroke="#111" stroke-width="0.32">19</text>
<text transform="translate(154,203.82) scale(0.68,1)" font-size="7.5" text-anchor="middle" font-weight="bold" font-style="normal" fill="#111" stroke="#111" stroke-width="0.32">16</text>
<text transform="translate(165.6,203.82) scale(0.68,1)" font-size="7.5" text-anchor="middle" font-weight="bold" font-style="normal" fill="#111" stroke="#111" stroke-width="0.32">14</text>
<text transform="translate(177.6,203.82) scale(0.68,1)" font-size="7.5" text-anchor="middle" font-weight="bold" font-style="normal" fill="#111" stroke="#111" stroke-width="0.32">13</text>
<text transform="translate(189.3,203.82) scale(0.68,1)" font-size="7.5" text-anchor="middle" font-weight="bold" font-style="normal" fill="#111" stroke="#111" stroke-width="0.32">12</text>
<text transform="translate(199.4,203.82) scale(0.68,1)" font-size="7.5" text-anchor="middle" font-weight="bold" font-style="normal" fill="#111" stroke="#111" stroke-width="0.32">7</text>
<text transform="translate(206.8,203.82) scale(0.68,1)" font-size="7.5" text-anchor="middle" font-weight="bold" font-style="normal" fill="#111" stroke="#111" stroke-width="0.32">6</text>
<text transform="translate(215.3,203.82) scale(0.68,1)" font-size="7.5" text-anchor="middle" font-weight="bold" font-style="normal" fill="#111" stroke="#111" stroke-width="0.32">5</text>
<text transform="translate(223,203.82) scale(0.68,1)" font-size="7.5" text-anchor="middle" font-weight="bold" font-style="normal" fill="#111" stroke="#111" stroke-width="0.32">3</text>
<text transform="translate(230.4,203.82) scale(0.68,1)" font-size="7.5" text-anchor="middle" font-weight="bold" font-style="normal" fill="#111" stroke="#111" stroke-width="0.32">0</text>
<text transform="translate(131.5,346.6) scale(0.85,1)" font-size="6.3" text-anchor="middle" font-weight="bold" font-style="normal" fill="#111" stroke="#111" stroke-width="0.32">Logλ</text>
<text transform="translate(10.64,264) rotate(-90) scale(0.83,1)" font-size="6.4" text-anchor="middle" font-weight="bold" font-style="normal" fill="#111" stroke="#111" stroke-width="0.32">Binomial Deviance</text>
<text x="11.2" y="190.8" font-size="9.3" font-weight="bold" fill="#1a1a1a" stroke="#1a1a1a" stroke-width="0.25">C</text>
<line x1="392.65" y1="10" x2="392.65" y2="155.5" stroke="#f3f3f3" stroke-width="0.5"/>
<line x1="436.75" y1="10" x2="436.75" y2="155.5" stroke="#f3f3f3" stroke-width="0.5"/>
<line x1="480.85" y1="10" x2="480.85" y2="155.5" stroke="#f3f3f3" stroke-width="0.5"/>
<line x1="524.95" y1="10" x2="524.95" y2="155.5" stroke="#f3f3f3" stroke-width="0.5"/>
<line x1="370.6" y1="10" x2="370.6" y2="155.5" stroke="#f1f1f1" stroke-width="0.7"/>
<line x1="414.7" y1="10" x2="414.7" y2="155.5" stroke="#f1f1f1" stroke-width="0.7"/>
<line x1="458.8" y1="10" x2="458.8" y2="155.5" stroke="#f1f1f1" stroke-width="0.7"/>
<line x1="502.9" y1="10" x2="502.9" y2="155.5" stroke="#f1f1f1" stroke-width="0.7"/>
<line x1="370.6" y1="18" x2="541" y2="18" stroke="#f1f1f1" stroke-width="0.7"/>
<line x1="370.6" y1="32.36" x2="541" y2="32.36" stroke="#f1f1f1" stroke-width="0.7"/>
<line x1="370.6" y1="46.72" x2="541" y2="46.72" stroke="#f1f1f1" stroke-width="0.7"/>
<line x1="370.6" y1="61.08" x2="541" y2="61.08" stroke="#f1f1f1" stroke-width="0.7"/>
<line x1="370.6" y1="75.44" x2="541" y2="75.44" stroke="#f1f1f1" stroke-width="0.7"/>
<line x1="370.6" y1="89.8" x2="541" y2="89.8" stroke="#f1f1f1" stroke-width="0.7"/>
<line x1="370.6" y1="104.16" x2="541" y2="104.16" stroke="#f1f1f1" stroke-width="0.7"/>
<line x1="370.6" y1="118.52" x2="541" y2="118.52" stroke="#f1f1f1" stroke-width="0.7"/>
<line x1="370.6" y1="132.88" x2="541" y2="132.88" stroke="#f1f1f1" stroke-width="0.7"/>
<line x1="370.6" y1="147.24" x2="541" y2="147.24" stroke="#f1f1f1" stroke-width="0.7"/>
<rect x="370.6" y="11.8" width="161.9" height="12.4" fill="#0f72b0"/>
<rect x="370.6" y="26.16" width="155.5" height="12.4" fill="#0f72b0"/>
<rect x="370.6" y="40.52" width="154.5" height="12.4" fill="#0f72b0"/>
<rect x="370.6" y="54.88" width="152.4" height="12.4" fill="#0f72b0"/>
<rect x="370.6" y="69.24" width="152.1" height="12.4" fill="#0f72b0"/>
<rect x="370.6" y="83.6" width="103" height="12.4" fill="#0f72b0"/>
<rect x="370.6" y="97.96" width="59.9" height="12.4" fill="#0f72b0"/>
<rect x="370.6" y="112.32" width="55.4" height="12.4" fill="#0f72b0"/>
<rect x="370.6" y="126.68" width="45.8" height="12.4" fill="#0f72b0"/>
<rect x="370.6" y="141.04" width="19.4" height="12.4" fill="#0f72b0"/>
<text transform="translate(369.2,20.16) scale(0.69,1)" font-size="7.9" text-anchor="end" font-weight="bold" font-style="italic" fill="#111" stroke="#111" stroke-width="0.16">Sporotomaculum</text>
<text transform="translate(369.2,34.52) scale(0.69,1)" font-size="7.9" text-anchor="end" font-weight="bold" font-style="italic" fill="#111" stroke="#111" stroke-width="0.16">Blautia</text>
<text transform="translate(369.2,48.88) scale(0.69,1)" font-size="7.9" text-anchor="end" font-weight="bold" font-style="italic" fill="#111" stroke="#111" stroke-width="0.16">Lawsonia</text>
<text transform="translate(369.2,63.24) scale(0.69,1)" font-size="7.9" text-anchor="end" font-weight="bold" font-style="italic" fill="#111" stroke="#111" stroke-width="0.16">Clostridioides</text>
<text transform="translate(369.2,77.61) scale(0.69,1)" font-size="7.9" text-anchor="end" font-weight="bold" font-style="italic" fill="#111" stroke="#111" stroke-width="0.16">Anaerobutyricum</text>
<text transform="translate(369.2,91.97) scale(0.69,1)" font-size="7.9" text-anchor="end" font-weight="bold" font-style="italic" fill="#111" stroke="#111" stroke-width="0.16">Fusicatenibacter</text>
<text transform="translate(369.2,106.33) scale(0.69,1)" font-size="7.9" text-anchor="end" font-weight="bold" font-style="italic" fill="#111" stroke="#111" stroke-width="0.16">Coprobacillus</text>
<text transform="translate(369.2,120.69) scale(0.69,1)" font-size="7.9" text-anchor="end" font-weight="bold" font-style="italic" fill="#111" stroke="#111" stroke-width="0.16">unclassified_p__Candidatus_Saccharibacteria</text>
<text transform="translate(369.2,135.04) scale(0.69,1)" font-size="7.9" text-anchor="end" font-weight="bold" font-style="italic" fill="#111" stroke="#111" stroke-width="0.16">Acidomonas</text>
<text transform="translate(369.2,149.41) scale(0.69,1)" font-size="7.9" text-anchor="end" font-weight="bold" font-style="italic" fill="#111" stroke="#111" stroke-width="0.16">Fibrobacter</text>
<text transform="translate(371.3,161.22) scale(0.78,1)" font-size="7.2" text-anchor="middle" font-weight="bold" font-style="normal" fill="#111" stroke="#111" stroke-width="0.32">0.0</text>
<text transform="translate(415.3,161.22) scale(0.78,1)" font-size="7.2" text-anchor="middle" font-weight="bold" font-style="normal" fill="#111" stroke="#111" stroke-width="0.32">0.2</text>
<text transform="translate(459.2,161.22) scale(0.78,1)" font-size="7.2" text-anchor="middle" font-weight="bold" font-style="normal" fill="#111" stroke="#111" stroke-width="0.32">0.4</text>
<text transform="translate(503.3,161.22) scale(0.78,1)" font-size="7.2" text-anchor="middle" font-weight="bold" font-style="normal" fill="#111" stroke="#111" stroke-width="0.32">0.6</text>
<text transform="translate(451.5,169.11) scale(0.84,1)" font-size="6.6" text-anchor="middle" font-weight="bold" font-style="normal" fill="#111" stroke="#111" stroke-width="0.32">Importance</text>
<text x="283" y="9.1" font-size="9.3" font-weight="bold" fill="#1a1a1a" stroke="#1a1a1a" stroke-width="0.25">B</text>
<line x1="399.75" y1="189.5" x2="399.75" y2="348.5" stroke="#f3f3f3" stroke-width="0.5"/>
<line x1="448.25" y1="189.5" x2="448.25" y2="348.5" stroke="#f3f3f3" stroke-width="0.5"/>
<line x1="496.75" y1="189.5" x2="496.75" y2="348.5" stroke="#f3f3f3" stroke-width="0.5"/>
<line x1="375.5" y1="189.5" x2="375.5" y2="348.5" stroke="#f1f1f1" stroke-width="0.7"/>
<line x1="424" y1="189.5" x2="424" y2="348.5" stroke="#f1f1f1" stroke-width="0.7"/>
<line x1="472.5" y1="189.5" x2="472.5" y2="348.5" stroke="#f1f1f1" stroke-width="0.7"/>
<line x1="521" y1="189.5" x2="521" y2="348.5" stroke="#f1f1f1" stroke-width="0.7"/>
<line x1="375.5" y1="194.9" x2="541" y2="194.9" stroke="#f1f1f1" stroke-width="0.7"/>
<line x1="375.5" y1="202.34" x2="541" y2="202.34" stroke="#f1f1f1" stroke-width="0.7"/>
<line x1="375.5" y1="209.79" x2="541" y2="209.79" stroke="#f1f1f1" stroke-width="0.7"/>
<line x1="375.5" y1="217.24" x2="541" y2="217.24" stroke="#f1f1f1" stroke-width="0.7"/>
<line x1="375.5" y1="224.68" x2="541" y2="224.68" stroke="#f1f1f1" stroke-width="0.7"/>
<line x1="375.5" y1="232.12" x2="541" y2="232.12" stroke="#f1f1f1" stroke-width="0.7"/>
<line x1="375.5" y1="239.57" x2="541" y2="239.57" stroke="#f1f1f1" stroke-width="0.7"/>
<line x1="375.5" y1="247.02" x2="541" y2="247.02" stroke="#f1f1f1" stroke-width="0.7"/>
<line x1="375.5" y1="254.46" x2="541" y2="254.46" stroke="#f1f1f1" stroke-width="0.7"/>
<line x1="375.5" y1="261.9" x2="541" y2="261.9" stroke="#f1f1f1" stroke-width="0.7"/>
<line x1="375.5" y1="269.35" x2="541" y2="269.35" stroke="#f1f1f1" stroke-width="0.7"/>
<line x1="375.5" y1="276.8" x2="541" y2="276.8" stroke="#f1f1f1" stroke-width="0.7"/>
<line x1="375.5" y1="284.24" x2="541" y2="284.24" stroke="#f1f1f1" stroke-width="0.7"/>
<line x1="375.5" y1="291.69" x2="541" y2="291.69" stroke="#f1f1f1" stroke-width="0.7"/>
<line x1="375.5" y1="299.13" x2="541" y2="299.13" stroke="#f1f1f1" stroke-width="0.7"/>
<line x1="375.5" y1="306.58" x2="541" y2="306.58" stroke="#f1f1f1" stroke-width="0.7"/>
<line x1="375.5" y1="314.02" x2="541" y2="314.02" stroke="#f1f1f1" stroke-width="0.7"/>
<line x1="375.5" y1="321.47" x2="541" y2="321.47" stroke="#f1f1f1" stroke-width="0.7"/>
<line x1="375.5" y1="328.91" x2="541" y2="328.91" stroke="#f1f1f1" stroke-width="0.7"/>
<line x1="375.5" y1="336.36" x2="541" y2="336.36" stroke="#f1f1f1" stroke-width="0.7"/>
<line x1="375.5" y1="343.8" x2="541" y2="343.8" stroke="#f1f1f1" stroke-width="0.7"/>
<rect x="375.5" y="191.9" width="157.5" height="6" fill="#f8807f"/>
<rect x="375.5" y="199.34" width="80" height="6" fill="#f8807f"/>
<rect x="375.5" y="206.79" width="49" height="6" fill="#f8807f"/>
<rect x="375.5" y="214.24" width="45.4" height="6" fill="#f8807f"/>
<rect x="375.5" y="221.68" width="30.3" height="6" fill="#f8807f"/>
<rect x="375.5" y="229.12" width="28.5" height="6" fill="#f8807f"/>
<rect x="375.5" y="236.57" width="22" height="6" fill="#f8807f"/>
<rect x="375.5" y="244.02" width="21" height="6" fill="#f8807f"/>
<rect x="375.5" y="251.46" width="18.4" height="6" fill="#f8807f"/>
<rect x="375.5" y="258.9" width="14" height="6" fill="#f8807f"/>
<rect x="375.5" y="266.35" width="12.7" height="6" fill="#f8807f"/>
<rect x="375.5" y="273.8" width="10" height="6" fill="#f8807f"/>
<rect x="375.5" y="281.24" width="7.2" height="6" fill="#f8807f"/>
<rect x="375.5" y="288.69" width="6.8" height="6" fill="#f8807f"/>
<rect x="375.5" y="296.13" width="3.5" height="6" fill="#f8807f"/>
<rect x="375.5" y="303.58" width="1.6" height="6" fill="#f8807f"/>
<rect x="375.5" y="311.02" width="0.5" height="6" fill="#f8807f"/>
<rect x="375.5" y="318.47" width="0.3" height="6" fill="#f8807f"/>
<rect x="375.5" y="325.91" width="0.1" height="6" fill="#f8807f"/>
<text transform="translate(372.8,197.28) scale(0.8,1)" font-size="6.8" text-anchor="end" font-weight="bold" font-style="italic" fill="#111" stroke="#111" stroke-width="0.16">Blautia_hominis</text>
<text transform="translate(372.8,204.72) scale(0.8,1)" font-size="6.8" text-anchor="end" font-weight="bold" font-style="italic" fill="#111" stroke="#111" stroke-width="0.16">Desulfovibrio_sp.</text>
<text transform="translate(372.8,212.17) scale(0.8,1)" font-size="6.8" text-anchor="end" font-weight="bold" font-style="italic" fill="#111" stroke="#111" stroke-width="0.16">Modestobacter_lapidis</text>
<text transform="translate(372.8,219.62) scale(0.8,1)" font-size="6.8" text-anchor="end" font-weight="bold" font-style="italic" fill="#111" stroke="#111" stroke-width="0.16">Carboxydocella_sp._ULO1</text>
<text transform="translate(372.8,227.06) scale(0.8,1)" font-size="6.8" text-anchor="end" font-weight="bold" font-style="italic" fill="#111" stroke="#111" stroke-width="0.16">Pseudoflavonifractor_gallinarum</text>
<text transform="translate(372.8,234.5) scale(0.8,1)" font-size="6.8" text-anchor="end" font-weight="bold" font-style="italic" fill="#111" stroke="#111" stroke-width="0.16">Blautia_sp._210820-DFI.6.14</text>
<text transform="translate(372.8,241.95) scale(0.8,1)" font-size="6.8" text-anchor="end" font-weight="bold" font-style="italic" fill="#111" stroke="#111" stroke-width="0.16">Siphoviridae_sp._ctUoe7</text>
<text transform="translate(372.8,249.4) scale(0.8,1)" font-size="6.8" text-anchor="end" font-weight="bold" font-style="italic" fill="#111" stroke="#111" stroke-width="0.16">Modestobacter_marinus</text>
<text transform="translate(372.8,256.84) scale(0.8,1)" font-size="6.8" text-anchor="end" font-weight="bold" font-style="italic" fill="#111" stroke="#111" stroke-width="0.16">Selenomonas_sp._oral_taxon_149</text>
<text transform="translate(372.8,264.28) scale(0.8,1)" font-size="6.8" text-anchor="end" font-weight="bold" font-style="italic" fill="#111" stroke="#111" stroke-width="0.16">Neisseria_subflava</text>
<text transform="translate(372.8,271.73) scale(0.8,1)" font-size="6.8" text-anchor="end" font-weight="bold" font-style="italic" fill="#111" stroke="#111" stroke-width="0.16">Paenibacillus_prosopidis</text>
<text transform="translate(372.8,279.18) scale(0.8,1)" font-size="6.8" text-anchor="end" font-weight="bold" font-style="italic" fill="#111" stroke="#111" stroke-width="0.16">Butyricicoccus_sp._OF27-2pH9A</text>
<text transform="translate(372.8,286.62) scale(0.8,1)" font-size="6.8" text-anchor="end" font-weight="bold" font-style="italic" fill="#111" stroke="#111" stroke-width="0.16">Romboutsia_sp._1001713B170131_170501_G6</text>
<text transform="translate(372.8,294.06) scale(0.8,1)" font-size="6.8" text-anchor="end" font-weight="bold" font-style="italic" fill="#111" stroke="#111" stroke-width="0.16">Candidatus_Blautia_merdipullorum</text>
<text transform="translate(372.8,301.51) scale(0.8,1)" font-size="6.8" text-anchor="end" font-weight="bold" font-style="italic" fill="#111" stroke="#111" stroke-width="0.16">Turicimonas_muris</text>
<text transform="translate(372.8,308.96) scale(0.8,1)" font-size="6.8" text-anchor="end" font-weight="bold" font-style="italic" fill="#111" stroke="#111" stroke-width="0.16">Enterobacter_sp.</text>
<text transform="translate(372.8,316.4) scale(0.8,1)" font-size="6.8" text-anchor="end" font-weight="bold" font-style="italic" fill="#111" stroke="#111" stroke-width="0.16">Corynebacterium_parakroppenstedtii</text>
<text transform="translate(372.8,323.85) scale(0.8,1)" font-size="6.8" text-anchor="end" font-weight="bold" font-style="italic" fill="#111" stroke="#111" stroke-width="0.16">Bifidobacterium_stellenboschense</text>
<text transform="translate(372.8,331.29) scale(0.8,1)" font-size="6.8" text-anchor="end" font-weight="bold" font-style="italic" fill="#111" stroke="#111" stroke-width="0.16">Tannerella_sp.</text>
<text transform="translate(372.8,338.74) scale(0.8,1)" font-size="6.8" text-anchor="end" font-weight="bold" font-style="italic" fill="#111" stroke="#111" stroke-width="0.16">Siphoviridae_sp._ctrgQ8</text>
<text transform="translate(372.8,346.18) scale(0.8,1)" font-size="6.8" text-anchor="end" font-weight="bold" font-style="italic" fill="#111" stroke="#111" stroke-width="0.16">Clostridium_sp._MCC345</text>
<text transform="translate(375.6,355.42) scale(0.78,1)" font-size="7.2" text-anchor="middle" font-weight="bold" font-style="normal" fill="#111" stroke="#111" stroke-width="0.32">0.0</text>
<text transform="translate(424.6,355.42) scale(0.78,1)" font-size="7.2" text-anchor="middle" font-weight="bold" font-style="normal" fill="#111" stroke="#111" stroke-width="0.32">0.5</text>
<text transform="translate(472.7,355.42) scale(0.78,1)" font-size="7.2" text-anchor="middle" font-weight="bold" font-style="normal" fill="#111" stroke="#111" stroke-width="0.32">1.0</text>
<text transform="translate(521.5,355.42) scale(0.78,1)" font-size="7.2" text-anchor="middle" font-weight="bold" font-style="normal" fill="#111" stroke="#111" stroke-width="0.32">1.5</text>
<text transform="translate(454.1,363.41) scale(0.84,1)" font-size="6.6" text-anchor="middle" font-weight="bold" font-style="normal" fill="#111" stroke="#111" stroke-width="0.32">Importance</text>
<text x="283.4" y="190.8" font-size="9.3" font-weight="bold" fill="#1a1a1a" stroke="#1a1a1a" stroke-width="0.25">D</text>
<line x1="68.7" y1="378.7" x2="68.7" y2="505.7" stroke="#f6f6f6" stroke-width="0.5"/>
<line x1="119.1" y1="378.7" x2="119.1" y2="505.7" stroke="#f6f6f6" stroke-width="0.5"/>
<line x1="169.5" y1="378.7" x2="169.5" y2="505.7" stroke="#f6f6f6" stroke-width="0.5"/>
<line x1="219.9" y1="378.7" x2="219.9" y2="505.7" stroke="#f6f6f6" stroke-width="0.5"/>
<line x1="33.4" y1="485.47" x2="255.6" y2="485.47" stroke="#f6f6f6" stroke-width="0.5"/>
<line x1="33.4" y1="456.62" x2="255.6" y2="456.62" stroke="#f6f6f6" stroke-width="0.5"/>
<line x1="33.4" y1="427.77" x2="255.6" y2="427.77" stroke="#f6f6f6" stroke-width="0.5"/>
<line x1="33.4" y1="398.92" x2="255.6" y2="398.92" stroke="#f6f6f6" stroke-width="0.5"/>
<line x1="43.5" y1="378.7" x2="43.5" y2="505.7" stroke="#f1f1f1" stroke-width="0.7"/>
<line x1="93.9" y1="378.7" x2="93.9" y2="505.7" stroke="#f1f1f1" stroke-width="0.7"/>
<line x1="144.3" y1="378.7" x2="144.3" y2="505.7" stroke="#f1f1f1" stroke-width="0.7"/>
<line x1="194.7" y1="378.7" x2="194.7" y2="505.7" stroke="#f1f1f1" stroke-width="0.7"/>
<line x1="245.1" y1="378.7" x2="245.1" y2="505.7" stroke="#f1f1f1" stroke-width="0.7"/>
<line x1="33.4" y1="499.9" x2="255.6" y2="499.9" stroke="#f1f1f1" stroke-width="0.7"/>
<line x1="33.4" y1="471.05" x2="255.6" y2="471.05" stroke="#f1f1f1" stroke-width="0.7"/>
<line x1="33.4" y1="442.2" x2="255.6" y2="442.2" stroke="#f1f1f1" stroke-width="0.7"/>
<line x1="33.4" y1="413.35" x2="255.6" y2="413.35" stroke="#f1f1f1" stroke-width="0.7"/>
<line x1="33.4" y1="384.5" x2="255.6" y2="384.5" stroke="#f1f1f1" stroke-width="0.7"/>
<rect x="43.7" y="416.1" width="9.8" height="30.4" fill="#e9ebf8"/>
<rect x="45" y="446.5" width="8.2" height="4.5" fill="#e9ebf8"/>
<rect x="53.5" y="411.3" width="9.2" height="32.3" fill="#e9ebf8"/>
<rect x="62.7" y="391" width="9.6" height="24.6" fill="#e9ebf8"/>
<rect x="72.3" y="384.3" width="9.7" height="15.4" fill="#e9ebf8"/>
<line x1="43.5" y1="499.9" x2="245.1" y2="384.5" stroke="#9a9a9a" stroke-width="0.95" stroke-dasharray="3.8,2.6"/>
<polyline points="43.7,500 43.7,433.9 53.5,433.9 53.5,428 62.8,428 62.8,403.6 72.3,403.6 72.3,391.3 82,391.3 82,385.5 244.8,385.5" fill="none" stroke="#1b72c4" stroke-width="1.4" stroke-linejoin="round" stroke-linecap="round" stroke-linecap="butt" stroke-linejoin="miter"/>
<text transform="translate(183.4,464.3) scale(0.83,1)" font-size="8.3" text-anchor="middle" font-weight="bold" font-style="normal" fill="#111" stroke="#111" stroke-width="0.32">AUC=0.923 (0.893−0.952)</text>
<text transform="translate(32.8,502.38) scale(0.79,1)" font-size="7.1" text-anchor="end" font-weight="bold" font-style="normal" fill="#111" stroke="#111" stroke-width="0.32">0.00</text>
<text transform="translate(32.8,473.53) scale(0.79,1)" font-size="7.1" text-anchor="end" font-weight="bold" font-style="normal" fill="#111" stroke="#111" stroke-width="0.32">0.25</text>
<text transform="translate(32.8,444.69) scale(0.79,1)" font-size="7.1" text-anchor="end" font-weight="bold" font-style="normal" fill="#111" stroke="#111" stroke-width="0.32">0.50</text>
<text transform="translate(32.8,415.83) scale(0.79,1)" font-size="7.1" text-anchor="end" font-weight="bold" font-style="normal" fill="#111" stroke="#111" stroke-width="0.32">0.75</text>
<text transform="translate(32.8,386.99) scale(0.79,1)" font-size="7.1" text-anchor="end" font-weight="bold" font-style="normal" fill="#111" stroke="#111" stroke-width="0.32">1.00</text>
<text transform="translate(43.5,511.88) scale(0.79,1)" font-size="7.1" text-anchor="middle" font-weight="bold" font-style="normal" fill="#111" stroke="#111" stroke-width="0.32">0.00</text>
<text transform="translate(93.9,511.88) scale(0.79,1)" font-size="7.1" text-anchor="middle" font-weight="bold" font-style="normal" fill="#111" stroke="#111" stroke-width="0.32">0.25</text>
<text transform="translate(144.3,511.88) scale(0.79,1)" font-size="7.1" text-anchor="middle" font-weight="bold" font-style="normal" fill="#111" stroke="#111" stroke-width="0.32">0.50</text>
<text transform="translate(194.7,511.88) scale(0.79,1)" font-size="7.1" text-anchor="middle" font-weight="bold" font-style="normal" fill="#111" stroke="#111" stroke-width="0.32">0.75</text>
<text transform="translate(245.1,511.88) scale(0.79,1)" font-size="7.1" text-anchor="middle" font-weight="bold" font-style="normal" fill="#111" stroke="#111" stroke-width="0.32">1.00</text>
<text transform="translate(149.3,518.34) scale(0.81,1)" font-size="6.4" text-anchor="middle" font-weight="bold" font-style="normal" fill="#111" stroke="#111" stroke-width="0.32">1-Specificity</text>
<text transform="translate(14.44,440.8) rotate(-90) scale(0.8,1)" font-size="6.4" text-anchor="middle" font-weight="bold" font-style="normal" fill="#111" stroke="#111" stroke-width="0.32">Sensitivity</text>
<text x="11.2" y="372.7" font-size="9.3" font-weight="bold" fill="#1a1a1a" stroke="#1a1a1a" stroke-width="0.25">E</text>
<line x1="354.51" y1="378.9" x2="354.51" y2="505.3" stroke="#f6f6f6" stroke-width="0.5"/>
<line x1="404.74" y1="378.9" x2="404.74" y2="505.3" stroke="#f6f6f6" stroke-width="0.5"/>
<line x1="454.96" y1="378.9" x2="454.96" y2="505.3" stroke="#f6f6f6" stroke-width="0.5"/>
<line x1="505.19" y1="378.9" x2="505.19" y2="505.3" stroke="#f6f6f6" stroke-width="0.5"/>
<line x1="319.3" y1="485.28" x2="540.5" y2="485.28" stroke="#f6f6f6" stroke-width="0.5"/>
<line x1="319.3" y1="456.62" x2="540.5" y2="456.62" stroke="#f6f6f6" stroke-width="0.5"/>
<line x1="319.3" y1="427.98" x2="540.5" y2="427.98" stroke="#f6f6f6" stroke-width="0.5"/>
<line x1="319.3" y1="399.33" x2="540.5" y2="399.33" stroke="#f6f6f6" stroke-width="0.5"/>
<line x1="329.4" y1="378.9" x2="329.4" y2="505.3" stroke="#f1f1f1" stroke-width="0.7"/>
<line x1="379.62" y1="378.9" x2="379.62" y2="505.3" stroke="#f1f1f1" stroke-width="0.7"/>
<line x1="429.85" y1="378.9" x2="429.85" y2="505.3" stroke="#f1f1f1" stroke-width="0.7"/>
<line x1="480.07" y1="378.9" x2="480.07" y2="505.3" stroke="#f1f1f1" stroke-width="0.7"/>
<line x1="530.3" y1="378.9" x2="530.3" y2="505.3" stroke="#f1f1f1" stroke-width="0.7"/>
<line x1="319.3" y1="499.6" x2="540.5" y2="499.6" stroke="#f1f1f1" stroke-width="0.7"/>
<line x1="319.3" y1="470.95" x2="540.5" y2="470.95" stroke="#f1f1f1" stroke-width="0.7"/>
<line x1="319.3" y1="442.3" x2="540.5" y2="442.3" stroke="#f1f1f1" stroke-width="0.7"/>
<line x1="319.3" y1="413.65" x2="540.5" y2="413.65" stroke="#f1f1f1" stroke-width="0.7"/>
<line x1="319.3" y1="385" x2="540.5" y2="385" stroke="#f1f1f1" stroke-width="0.7"/>
<polygon points="329.4,499.6 339.4,489.5 339.4,501.5 334,501.5" fill="#fbd6c5"/>
<polygon points="339.4,400 348.6,395.4 377.4,395.4 377.4,390.6 387.4,390.6 387.4,416.4 377.4,416.4 377.4,423.6 349,424.4 339.4,430" fill="#fbd6c5"/>
<line x1="329.4" y1="499.6" x2="530.3" y2="385" stroke="#9a9a9a" stroke-width="0.95" stroke-dasharray="3.8,2.6"/>
<polyline points="329.6,499.6 339.4,494.4 339.4,415.3 349.3,409.5 377.4,409.5 377.4,403.6 387.4,403.6 387.4,385 530.3,385" fill="none" stroke="#ff2a2a" stroke-width="1.4" stroke-linejoin="round" stroke-linecap="round" stroke-linecap="butt" stroke-linejoin="miter"/>
<text transform="translate(470.6,463.3) scale(0.82,1)" font-size="8.3" text-anchor="middle" font-weight="bold" font-style="normal" fill="#111" stroke="#111" stroke-width="0.32">AUC=0.853 (0.801−0.904)</text>
<text transform="translate(319.2,502.09) scale(0.79,1)" font-size="7.1" text-anchor="end" font-weight="bold" font-style="normal" fill="#111" stroke="#111" stroke-width="0.32">0.00</text>
<text transform="translate(319.2,473.44) scale(0.79,1)" font-size="7.1" text-anchor="end" font-weight="bold" font-style="normal" fill="#111" stroke="#111" stroke-width="0.32">0.25</text>
<text transform="translate(319.2,444.79) scale(0.79,1)" font-size="7.1" text-anchor="end" font-weight="bold" font-style="normal" fill="#111" stroke="#111" stroke-width="0.32">0.50</text>
<text transform="translate(319.2,416.14) scale(0.79,1)" font-size="7.1" text-anchor="end" font-weight="bold" font-style="normal" fill="#111" stroke="#111" stroke-width="0.32">0.75</text>
<text transform="translate(319.2,387.49) scale(0.79,1)" font-size="7.1" text-anchor="end" font-weight="bold" font-style="normal" fill="#111" stroke="#111" stroke-width="0.32">1.00</text>
<text transform="translate(329.4,511.09) scale(0.79,1)" font-size="7.1" text-anchor="middle" font-weight="bold" font-style="normal" fill="#111" stroke="#111" stroke-width="0.32">0.00</text>
<text transform="translate(379.62,511.09) scale(0.79,1)" font-size="7.1" text-anchor="middle" font-weight="bold" font-style="normal" fill="#111" stroke="#111" stroke-width="0.32">0.25</text>
<text transform="translate(429.85,511.09) scale(0.79,1)" font-size="7.1" text-anchor="middle" font-weight="bold" font-style="normal" fill="#111" stroke="#111" stroke-width="0.32">0.50</text>
<text transform="translate(480.07,511.09) scale(0.79,1)" font-size="7.1" text-anchor="middle" font-weight="bold" font-style="normal" fill="#111" stroke="#111" stroke-width="0.32">0.75</text>
<text transform="translate(530.3,511.09) scale(0.79,1)" font-size="7.1" text-anchor="middle" font-weight="bold" font-style="normal" fill="#111" stroke="#111" stroke-width="0.32">1.00</text>
<text transform="translate(435.6,517.74) scale(0.81,1)" font-size="6.4" text-anchor="middle" font-weight="bold" font-style="normal" fill="#111" stroke="#111" stroke-width="0.32">1-Specificity</text>
<text transform="translate(297.84,441) rotate(-90) scale(0.8,1)" font-size="6.4" text-anchor="middle" font-weight="bold" font-style="normal" fill="#111" stroke="#111" stroke-width="0.32">Sensitivity</text>
<text x="282.6" y="372.1" font-size="9.3" font-weight="bold" fill="#1a1a1a" stroke="#1a1a1a" stroke-width="0.25">F</text>
<line x1="56.7" y1="540.3" x2="56.7" y2="659" stroke="#f6f6f6" stroke-width="0.5"/>
<line x1="111.1" y1="540.3" x2="111.1" y2="659" stroke="#f6f6f6" stroke-width="0.5"/>
<line x1="165.5" y1="540.3" x2="165.5" y2="659" stroke="#f6f6f6" stroke-width="0.5"/>
<line x1="219.9" y1="540.3" x2="219.9" y2="659" stroke="#f6f6f6" stroke-width="0.5"/>
<line x1="33.6" y1="640" x2="255.5" y2="640" stroke="#f6f6f6" stroke-width="0.5"/>
<line x1="33.6" y1="612.8" x2="255.5" y2="612.8" stroke="#f6f6f6" stroke-width="0.5"/>
<line x1="33.6" y1="585.6" x2="255.5" y2="585.6" stroke="#f6f6f6" stroke-width="0.5"/>
<line x1="33.6" y1="558.4" x2="255.5" y2="558.4" stroke="#f6f6f6" stroke-width="0.5"/>
<line x1="83.9" y1="540.3" x2="83.9" y2="659" stroke="#f1f1f1" stroke-width="0.7"/>
<line x1="138.3" y1="540.3" x2="138.3" y2="659" stroke="#f1f1f1" stroke-width="0.7"/>
<line x1="192.7" y1="540.3" x2="192.7" y2="659" stroke="#f1f1f1" stroke-width="0.7"/>
<line x1="247.1" y1="540.3" x2="247.1" y2="659" stroke="#f1f1f1" stroke-width="0.7"/>
<line x1="33.6" y1="653.6" x2="255.5" y2="653.6" stroke="#f1f1f1" stroke-width="0.7"/>
<line x1="33.6" y1="626.4" x2="255.5" y2="626.4" stroke="#f1f1f1" stroke-width="0.7"/>
<line x1="33.6" y1="599.2" x2="255.5" y2="599.2" stroke="#f1f1f1" stroke-width="0.7"/>
<line x1="33.6" y1="572" x2="255.5" y2="572" stroke="#f1f1f1" stroke-width="0.7"/>
<line x1="33.6" y1="544.8" x2="255.5" y2="544.8" stroke="#f1f1f1" stroke-width="0.7"/>
<line x1="34" y1="651.35" x2="256" y2="540.35" stroke="#9a9a9a" stroke-width="0.95" stroke-dasharray="3.8,2.6"/>
<polyline points="43.6,653.6 54.6,653.6 76.6,653.6 93.6,626.6 133.2,599.5 187.6,567.8 227.3,573.3 239.2,546.1 244.7,546.2" fill="none" stroke="#1a6fc8" stroke-width="1.6" stroke-linejoin="round" stroke-linecap="round"/>
<g fill="#1c2433"><circle cx="43.6" cy="653.6" r="1.55"/><circle cx="54.6" cy="653.6" r="1.55"/><circle cx="76.6" cy="653.6" r="1.55"/><circle cx="93.6" cy="626.6" r="1.55"/><circle cx="133.2" cy="599.5" r="1.55"/><circle cx="187.6" cy="567.8" r="1.55"/><circle cx="227.3" cy="573.3" r="1.55"/><circle cx="239.2" cy="546.1" r="1.55"/><circle cx="244.7" cy="546.2" r="1.55"/></g>
<text transform="translate(32.6,656.09) scale(0.79,1)" font-size="7.1" text-anchor="end" font-weight="bold" font-style="normal" fill="#111" stroke="#111" stroke-width="0.32">0.00</text>
<text transform="translate(32.6,628.88) scale(0.79,1)" font-size="7.1" text-anchor="end" font-weight="bold" font-style="normal" fill="#111" stroke="#111" stroke-width="0.32">0.25</text>
<text transform="translate(32.6,601.69) scale(0.79,1)" font-size="7.1" text-anchor="end" font-weight="bold" font-style="normal" fill="#111" stroke="#111" stroke-width="0.32">0.50</text>
<text transform="translate(32.6,574.49) scale(0.79,1)" font-size="7.1" text-anchor="end" font-weight="bold" font-style="normal" fill="#111" stroke="#111" stroke-width="0.32">0.75</text>
<text transform="translate(32.6,547.29) scale(0.79,1)" font-size="7.1" text-anchor="end" font-weight="bold" font-style="normal" fill="#111" stroke="#111" stroke-width="0.32">1.00</text>
<text transform="translate(83.9,664.49) scale(0.79,1)" font-size="7.1" text-anchor="middle" font-weight="bold" font-style="normal" fill="#111" stroke="#111" stroke-width="0.32">0.25</text>
<text transform="translate(138.3,664.49) scale(0.79,1)" font-size="7.1" text-anchor="middle" font-weight="bold" font-style="normal" fill="#111" stroke="#111" stroke-width="0.32">0.50</text>
<text transform="translate(192.7,664.49) scale(0.79,1)" font-size="7.1" text-anchor="middle" font-weight="bold" font-style="normal" fill="#111" stroke="#111" stroke-width="0.32">0.75</text>
<text transform="translate(247.1,664.49) scale(0.79,1)" font-size="7.1" text-anchor="middle" font-weight="bold" font-style="normal" fill="#111" stroke="#111" stroke-width="0.32">1.00</text>
<text transform="translate(149.3,672.04) scale(0.84,1)" font-size="6.4" text-anchor="middle" font-weight="bold" font-style="normal" fill="#111" stroke="#111" stroke-width="0.32">Predicted Probability</text>
<text transform="translate(14.24,594.7) rotate(-90) scale(0.82,1)" font-size="6.4" text-anchor="middle" font-weight="bold" font-style="normal" fill="#111" stroke="#111" stroke-width="0.32">Observed Probability</text>
<text x="10.6" y="532.7" font-size="9.3" font-weight="bold" fill="#1a1a1a" stroke="#1a1a1a" stroke-width="0.25">G</text>
<line x1="347.64" y1="540.3" x2="347.64" y2="658.6" stroke="#f6f6f6" stroke-width="0.5"/>
<line x1="400.31" y1="540.3" x2="400.31" y2="658.6" stroke="#f6f6f6" stroke-width="0.5"/>
<line x1="452.99" y1="540.3" x2="452.99" y2="658.6" stroke="#f6f6f6" stroke-width="0.5"/>
<line x1="505.66" y1="540.3" x2="505.66" y2="658.6" stroke="#f6f6f6" stroke-width="0.5"/>
<line x1="321.3" y1="639.74" x2="542" y2="639.74" stroke="#f6f6f6" stroke-width="0.5"/>
<line x1="321.3" y1="612.81" x2="542" y2="612.81" stroke="#f6f6f6" stroke-width="0.5"/>
<line x1="321.3" y1="585.89" x2="542" y2="585.89" stroke="#f6f6f6" stroke-width="0.5"/>
<line x1="321.3" y1="558.96" x2="542" y2="558.96" stroke="#f6f6f6" stroke-width="0.5"/>
<line x1="373.98" y1="540.3" x2="373.98" y2="658.6" stroke="#f1f1f1" stroke-width="0.7"/>
<line x1="426.65" y1="540.3" x2="426.65" y2="658.6" stroke="#f1f1f1" stroke-width="0.7"/>
<line x1="479.32" y1="540.3" x2="479.32" y2="658.6" stroke="#f1f1f1" stroke-width="0.7"/>
<line x1="532" y1="540.3" x2="532" y2="658.6" stroke="#f1f1f1" stroke-width="0.7"/>
<line x1="321.3" y1="653.2" x2="542" y2="653.2" stroke="#f1f1f1" stroke-width="0.7"/>
<line x1="321.3" y1="626.28" x2="542" y2="626.28" stroke="#f1f1f1" stroke-width="0.7"/>
<line x1="321.3" y1="599.35" x2="542" y2="599.35" stroke="#f1f1f1" stroke-width="0.7"/>
<line x1="321.3" y1="572.43" x2="542" y2="572.43" stroke="#f1f1f1" stroke-width="0.7"/>
<line x1="321.3" y1="545.5" x2="542" y2="545.5" stroke="#f1f1f1" stroke-width="0.7"/>
<line x1="321.5" y1="653.2" x2="541.8" y2="540.49" stroke="#9a9a9a" stroke-width="0.95" stroke-dasharray="3.8,2.6"/>
<polyline points="331.7,653.4 355.7,653.4 384.1,653.4 398.9,573 421.3,626.8 470.4,589.2 511,546.4 529.5,546.4 531.2,567.6" fill="none" stroke="#ff1010" stroke-width="1.8" stroke-linejoin="round" stroke-linecap="round"/>
<g fill="#ff1010"><circle cx="331.7" cy="653.4" r="1.7"/><circle cx="355.7" cy="653.4" r="1.7"/><circle cx="384.1" cy="653.4" r="1.7"/><circle cx="398.9" cy="573" r="1.7"/><circle cx="421.3" cy="626.8" r="1.7"/><circle cx="470.4" cy="589.2" r="1.7"/><circle cx="511" cy="546.4" r="1.7"/><circle cx="529.5" cy="546.4" r="1.7"/><circle cx="531.2" cy="567.6" r="1.7"/></g>
<text transform="translate(319.7,655.69) scale(0.79,1)" font-size="7.1" text-anchor="end" font-weight="bold" font-style="normal" fill="#111" stroke="#111" stroke-width="0.32">0.00</text>
<text transform="translate(319.7,628.76) scale(0.79,1)" font-size="7.1" text-anchor="end" font-weight="bold" font-style="normal" fill="#111" stroke="#111" stroke-width="0.32">0.25</text>
<text transform="translate(319.7,601.84) scale(0.79,1)" font-size="7.1" text-anchor="end" font-weight="bold" font-style="normal" fill="#111" stroke="#111" stroke-width="0.32">0.50</text>
<text transform="translate(319.7,574.91) scale(0.79,1)" font-size="7.1" text-anchor="end" font-weight="bold" font-style="normal" fill="#111" stroke="#111" stroke-width="0.32">0.75</text>
<text transform="translate(319.7,547.99) scale(0.79,1)" font-size="7.1" text-anchor="end" font-weight="bold" font-style="normal" fill="#111" stroke="#111" stroke-width="0.32">1.00</text>
<text transform="translate(373.98,664.99) scale(0.79,1)" font-size="7.1" text-anchor="middle" font-weight="bold" font-style="normal" fill="#111" stroke="#111" stroke-width="0.32">0.25</text>
<text transform="translate(426.65,664.99) scale(0.79,1)" font-size="7.1" text-anchor="middle" font-weight="bold" font-style="normal" fill="#111" stroke="#111" stroke-width="0.32">0.50</text>
<text transform="translate(479.32,664.99) scale(0.79,1)" font-size="7.1" text-anchor="middle" font-weight="bold" font-style="normal" fill="#111" stroke="#111" stroke-width="0.32">0.75</text>
<text transform="translate(532,664.99) scale(0.79,1)" font-size="7.1" text-anchor="middle" font-weight="bold" font-style="normal" fill="#111" stroke="#111" stroke-width="0.32">1.00</text>
<text transform="translate(433.3,672.64) scale(0.84,1)" font-size="6.4" text-anchor="middle" font-weight="bold" font-style="normal" fill="#111" stroke="#111" stroke-width="0.32">Predicted Probability</text>
<text transform="translate(296.84,595.2) rotate(-90) scale(0.81,1)" font-size="6.4" text-anchor="middle" font-weight="bold" font-style="normal" fill="#111" stroke="#111" stroke-width="0.32">Observed Probability</text>
<text x="282.6" y="532.8" font-size="9.3" font-weight="bold" fill="#1a1a1a" stroke="#1a1a1a" stroke-width="0.25">H</text>
<line x1="41.8" y1="694" x2="41.8" y2="794.6" stroke="#f3f3f3" stroke-width="0.6"/>
<line x1="84.1" y1="694" x2="84.1" y2="794.6" stroke="#f3f3f3" stroke-width="0.6"/>
<line x1="126.4" y1="694" x2="126.4" y2="794.6" stroke="#f3f3f3" stroke-width="0.6"/>
<line x1="168.7" y1="694" x2="168.7" y2="794.6" stroke="#f3f3f3" stroke-width="0.6"/>
<line x1="211" y1="694" x2="211" y2="794.6" stroke="#f3f3f3" stroke-width="0.6"/>
<line x1="253.3" y1="694" x2="253.3" y2="794.6" stroke="#f3f3f3" stroke-width="0.6"/>
<line x1="33.8" y1="753.9" x2="259.3" y2="753.9" stroke="#f3f3f3" stroke-width="0.6"/>
<line x1="33.8" y1="729.3" x2="259.3" y2="729.3" stroke="#f3f3f3" stroke-width="0.6"/>
<line x1="33.8" y1="704.7" x2="259.3" y2="704.7" stroke="#f3f3f3" stroke-width="0.6"/>
<line x1="41.8" y1="778.5" x2="243.47" y2="778.5" stroke="#8a8a8a" stroke-width="0.9"/>
<polyline points="41.8,704.7 42.76,705.49 43.73,706.28 44.69,707.09 45.66,707.9 46.62,708.72 47.58,709.54 48.55,710.37 49.51,711.22 50.47,712.06 51.44,712.92 52.4,713.79 53.37,714.66 54.33,715.54 55.29,716.43 56.26,717.33 57.22,718.24 58.18,719.16 59.15,720.09 60.11,721.02 61.08,721.97 62.04,722.92 63,723.89 63.97,724.86 64.93,725.85 65.89,726.84 66.86,727.84 67.82,728.86 68.79,729.89 69.75,730.92 70.71,731.97 71.68,733.03 72.64,734.1 73.61,735.18 74.57,736.27 75.53,737.38 76.5,738.49 77.46,739.62 78.42,740.76 79.39,741.92 80.35,743.09 81.32,744.27 82.28,745.46 83.24,746.67 84.21,747.89 85.17,749.12 86.13,750.37 87.1,751.63 88.06,752.91 89.03,754.2 89.99,755.51 90.95,756.84 91.92,758.18 92.88,759.53 93.85,760.9 94.81,762.29 95.77,763.7 96.74,765.12 97.7,766.56 98.66,768.02 99.63,769.5 100.59,771 101.56,772.51 102.52,774.04 103.48,775.6 104.45,777.17 105.41,778.77 106.37,780.38 107.34,782.02 108.3,783.68 109.27,785.36 110.23,787.06 111.19,788.79 112.16,790.54 113.12,792.31 114.08,794.11 115.05,794.6" fill="none" stroke="#c4c4c4" stroke-width="0.8" stroke-linejoin="round" stroke-linecap="round"/>
<polyline points="42,704.4 44,706 48,707.4 52,708 55,707.4 60,708.4 64,708.6 67,711 69,713.4 72,713.6 74,713 76,713.6 78,716.6 80,718 82.4,722 138.6,737 141,731.4 141.7,731.6 148.7,732.7 152,738.2 161.8,742.1 166.6,744.7 169.5,752.4 172.7,754.1 183.6,763.3 185.8,766.6 187.6,750.2 196.7,754.1 205.5,760 212,765.5 215.3,772 219.6,778.6 221.4,781.8 222.9,754.5 224.7,739.3 227.3,741.5 230.6,752.4 233.8,772 236,777.5 237.1,778.6 251.3,778.6" fill="none" stroke="#2a7fd4" stroke-width="1.15" stroke-linejoin="round" stroke-linecap="round"/>
<line x1="33" y1="778.5" x2="33" y2="704.7" stroke="#727272" stroke-width="0.95"/>
<line x1="29.7" y1="778.5" x2="33" y2="778.5" stroke="#727272" stroke-width="0.95"/>
<text transform="translate(28.13,779.3) rotate(-90) scale(0.76,1)" font-size="7.8" text-anchor="middle" font-weight="bold" font-style="normal" fill="#111" stroke="#111" stroke-width="0.32">0.0</text>
<line x1="29.7" y1="753.9" x2="33" y2="753.9" stroke="#727272" stroke-width="0.95"/>
<text transform="translate(28.13,754.7) rotate(-90) scale(0.76,1)" font-size="7.8" text-anchor="middle" font-weight="bold" font-style="normal" fill="#111" stroke="#111" stroke-width="0.32">0.1</text>
<line x1="29.7" y1="729.3" x2="33" y2="729.3" stroke="#727272" stroke-width="0.95"/>
<text transform="translate(28.13,730.1) rotate(-90) scale(0.76,1)" font-size="7.8" text-anchor="middle" font-weight="bold" font-style="normal" fill="#111" stroke="#111" stroke-width="0.32">0.2</text>
<line x1="29.7" y1="704.7" x2="33" y2="704.7" stroke="#727272" stroke-width="0.95"/>
<text transform="translate(28.13,705.5) rotate(-90) scale(0.76,1)" font-size="7.8" text-anchor="middle" font-weight="bold" font-style="normal" fill="#111" stroke="#111" stroke-width="0.32">0.3</text>
<line x1="41.8" y1="794.9" x2="253.3" y2="794.9" stroke="#727272" stroke-width="0.95"/>
<line x1="41.8" y1="794.9" x2="41.8" y2="798.2" stroke="#727272" stroke-width="0.95"/>
<text transform="translate(41.8,808.43) scale(0.75,1)" font-size="7.8" text-anchor="middle" font-weight="bold" font-style="normal" fill="#111" stroke="#111" stroke-width="0.32">0.0</text>
<line x1="84.1" y1="794.9" x2="84.1" y2="798.2" stroke="#727272" stroke-width="0.95"/>
<text transform="translate(84.1,808.43) scale(0.75,1)" font-size="7.8" text-anchor="middle" font-weight="bold" font-style="normal" fill="#111" stroke="#111" stroke-width="0.32">0.2</text>
<line x1="126.4" y1="794.9" x2="126.4" y2="798.2" stroke="#727272" stroke-width="0.95"/>
<text transform="translate(126.4,808.43) scale(0.75,1)" font-size="7.8" text-anchor="middle" font-weight="bold" font-style="normal" fill="#111" stroke="#111" stroke-width="0.32">0.4</text>
<line x1="168.7" y1="794.9" x2="168.7" y2="798.2" stroke="#727272" stroke-width="0.95"/>
<text transform="translate(168.7,808.43) scale(0.75,1)" font-size="7.8" text-anchor="middle" font-weight="bold" font-style="normal" fill="#111" stroke="#111" stroke-width="0.32">0.6</text>
<line x1="211" y1="794.9" x2="211" y2="798.2" stroke="#727272" stroke-width="0.95"/>
<text transform="translate(211,808.43) scale(0.75,1)" font-size="7.8" text-anchor="middle" font-weight="bold" font-style="normal" fill="#111" stroke="#111" stroke-width="0.32">0.8</text>
<line x1="253.3" y1="794.9" x2="253.3" y2="798.2" stroke="#727272" stroke-width="0.95"/>
<text transform="translate(253.3,808.43) scale(0.75,1)" font-size="7.8" text-anchor="middle" font-weight="bold" font-style="normal" fill="#111" stroke="#111" stroke-width="0.32">1.0</text>
<text transform="translate(147.3,822.77) scale(0.85,1)" font-size="6.5" text-anchor="middle" font-weight="bold" font-style="normal" fill="#111" stroke="#111" stroke-width="0.32">High Risk Threshold</text>
<text transform="translate(14.24,745) rotate(-90) scale(0.83,1)" font-size="6.4" text-anchor="middle" font-weight="bold" font-style="normal" fill="#111" stroke="#111" stroke-width="0.32">Net Benefit</text>
<rect x="223.2" y="693.5" width="38" height="27.8" fill="#fff" stroke="#8a8a8a" stroke-width="0.7"/>
<line x1="229.3" y1="700.4" x2="240.1" y2="700.4" stroke="#2a7fd4" stroke-width="1.3"/>
<text transform="translate(242.2,702.71) scale(0.87,1)" font-size="6.6" text-anchor="start" font-weight="normal" font-style="normal" fill="#1a1a1a" stroke="#1a1a1a" stroke-width="0.05">Model</text>
<line x1="229.3" y1="707.5" x2="240.1" y2="707.5" stroke="#c8c8c8" stroke-width="0.8"/>
<text transform="translate(242.2,709.81) scale(0.87,1)" font-size="6.6" text-anchor="start" font-weight="normal" font-style="normal" fill="#1a1a1a" stroke="#1a1a1a" stroke-width="0.05">All</text>
<line x1="229.3" y1="714.2" x2="240.1" y2="714.2" stroke="#8a8a8a" stroke-width="0.9"/>
<text transform="translate(242.2,716.51) scale(0.87,1)" font-size="6.6" text-anchor="start" font-weight="normal" font-style="normal" fill="#1a1a1a" stroke="#1a1a1a" stroke-width="0.05">None</text>
<text x="11.4" y="689.7" font-size="9.3" font-weight="bold" fill="#1a1a1a" stroke="#1a1a1a" stroke-width="0.25">I</text>
<line x1="321.3" y1="694" x2="321.3" y2="794.5" stroke="#f3f3f3" stroke-width="0.6"/>
<line x1="363.5" y1="694" x2="363.5" y2="794.5" stroke="#f3f3f3" stroke-width="0.6"/>
<line x1="405.7" y1="694" x2="405.7" y2="794.5" stroke="#f3f3f3" stroke-width="0.6"/>
<line x1="447.9" y1="694" x2="447.9" y2="794.5" stroke="#f3f3f3" stroke-width="0.6"/>
<line x1="490.1" y1="694" x2="490.1" y2="794.5" stroke="#f3f3f3" stroke-width="0.6"/>
<line x1="532.3" y1="694" x2="532.3" y2="794.5" stroke="#f3f3f3" stroke-width="0.6"/>
<line x1="313.3" y1="753.5" x2="538.3" y2="753.5" stroke="#f3f3f3" stroke-width="0.6"/>
<line x1="313.3" y1="728.8" x2="538.3" y2="728.8" stroke="#f3f3f3" stroke-width="0.6"/>
<line x1="313.3" y1="704.1" x2="538.3" y2="704.1" stroke="#f3f3f3" stroke-width="0.6"/>
<line x1="321.3" y1="778.2" x2="522.49" y2="778.2" stroke="#8a8a8a" stroke-width="0.9"/>
<polyline points="321.3,704.1 322.26,704.89 323.22,705.69 324.18,706.5 325.15,707.31 326.11,708.13 327.07,708.96 328.03,709.8 328.99,710.64 329.95,711.49 330.92,712.36 331.88,713.22 332.84,714.1 333.8,714.99 334.76,715.88 335.72,716.79 336.68,717.7 337.65,718.62 338.61,719.55 339.57,720.49 340.53,721.44 341.49,722.4 342.45,723.37 343.41,724.34 344.38,725.33 345.34,726.33 346.3,727.34 347.26,728.36 348.22,729.39 349.18,730.43 350.15,731.48 351.11,732.54 352.07,733.62 353.03,734.7 353.99,735.8 354.95,736.91 355.91,738.03 356.88,739.16 357.84,740.31 358.8,741.47 359.76,742.64 360.72,743.83 361.68,745.02 362.65,746.24 363.61,747.46 364.57,748.7 365.53,749.96 366.49,751.22 367.45,752.51 368.41,753.81 369.38,755.12 370.34,756.45 371.3,757.79 372.26,759.16 373.22,760.53 374.18,761.93 375.15,763.34 376.11,764.77 377.07,766.22 378.03,767.68 378.99,769.16 379.95,770.67 380.91,772.19 381.88,773.73 382.84,775.29 383.8,776.87 384.76,778.47 385.72,780.09 386.68,781.73 387.64,783.4 388.61,785.09 389.57,786.8 390.53,788.53 391.49,790.29 392.45,792.07 393.41,793.88 394.38,794.5" fill="none" stroke="#c4c4c4" stroke-width="0.8" stroke-linejoin="round" stroke-linecap="round"/>
<polyline points="321.6,704.3 325,706.8 333,710.7 337.5,710.7 342,710 347.3,719.1 352.3,720.9 355,725.5 358,725.9 359.5,725 363.6,726.6 365.5,731.1 369.3,727.7 390,732.2 401.6,735.1 407.5,737.1 409.8,732.2 414.7,733.6 422,735.7 424.9,732.2 436.5,733.6 445.3,735.1 451.7,736.5 454.6,742.4 461.3,744.7 465,749.6 471.5,752.5 476.7,755.5 480.2,761.3 486.1,765 488.3,767.2 490.1,772.3 492.3,774.8 493.7,778.5 494.5,780.6 496.3,783.5 498.1,789 500.6,794.3" fill="none" stroke="#ff2a2a" stroke-width="1.15" stroke-linejoin="round" stroke-linecap="round"/>
<polyline points="508.4,794.3 508.4,778.2 531.1,778.2" fill="none" stroke="#ff2a2a" stroke-width="1.15" stroke-linejoin="round" stroke-linecap="round"/>
<line x1="312.5" y1="778.2" x2="312.5" y2="704.1" stroke="#727272" stroke-width="0.95"/>
<line x1="309.2" y1="778.2" x2="312.5" y2="778.2" stroke="#727272" stroke-width="0.95"/>
<text transform="translate(306.63,779) rotate(-90) scale(0.76,1)" font-size="7.8" text-anchor="middle" font-weight="bold" font-style="normal" fill="#111" stroke="#111" stroke-width="0.32">0.0</text>
<line x1="309.2" y1="753.5" x2="312.5" y2="753.5" stroke="#727272" stroke-width="0.95"/>
<text transform="translate(306.63,754.3) rotate(-90) scale(0.76,1)" font-size="7.8" text-anchor="middle" font-weight="bold" font-style="normal" fill="#111" stroke="#111" stroke-width="0.32">0.1</text>
<line x1="309.2" y1="728.8" x2="312.5" y2="728.8" stroke="#727272" stroke-width="0.95"/>
<text transform="translate(306.63,729.6) rotate(-90) scale(0.76,1)" font-size="7.8" text-anchor="middle" font-weight="bold" font-style="normal" fill="#111" stroke="#111" stroke-width="0.32">0.2</text>
<line x1="309.2" y1="704.1" x2="312.5" y2="704.1" stroke="#727272" stroke-width="0.95"/>
<text transform="translate(306.63,704.9) rotate(-90) scale(0.76,1)" font-size="7.8" text-anchor="middle" font-weight="bold" font-style="normal" fill="#111" stroke="#111" stroke-width="0.32">0.3</text>
<line x1="321.3" y1="794.7" x2="532.3" y2="794.7" stroke="#727272" stroke-width="0.95"/>
<line x1="321.3" y1="794.7" x2="321.3" y2="798" stroke="#727272" stroke-width="0.95"/>
<text transform="translate(321.3,808.13) scale(0.75,1)" font-size="7.8" text-anchor="middle" font-weight="bold" font-style="normal" fill="#111" stroke="#111" stroke-width="0.32">0.0</text>
<line x1="363.5" y1="794.7" x2="363.5" y2="798" stroke="#727272" stroke-width="0.95"/>
<text transform="translate(363.5,808.13) scale(0.75,1)" font-size="7.8" text-anchor="middle" font-weight="bold" font-style="normal" fill="#111" stroke="#111" stroke-width="0.32">0.2</text>
<line x1="405.7" y1="794.7" x2="405.7" y2="798" stroke="#727272" stroke-width="0.95"/>
<text transform="translate(405.7,808.13) scale(0.75,1)" font-size="7.8" text-anchor="middle" font-weight="bold" font-style="normal" fill="#111" stroke="#111" stroke-width="0.32">0.4</text>
<line x1="447.9" y1="794.7" x2="447.9" y2="798" stroke="#727272" stroke-width="0.95"/>
<text transform="translate(447.9,808.13) scale(0.75,1)" font-size="7.8" text-anchor="middle" font-weight="bold" font-style="normal" fill="#111" stroke="#111" stroke-width="0.32">0.6</text>
<line x1="490.1" y1="794.7" x2="490.1" y2="798" stroke="#727272" stroke-width="0.95"/>
<text transform="translate(490.1,808.13) scale(0.75,1)" font-size="7.8" text-anchor="middle" font-weight="bold" font-style="normal" fill="#111" stroke="#111" stroke-width="0.32">0.8</text>
<line x1="532.3" y1="794.7" x2="532.3" y2="798" stroke="#727272" stroke-width="0.95"/>
<text transform="translate(532.3,808.13) scale(0.75,1)" font-size="7.8" text-anchor="middle" font-weight="bold" font-style="normal" fill="#111" stroke="#111" stroke-width="0.32">1.0</text>
<text transform="translate(426.2,822.27) scale(0.84,1)" font-size="6.5" text-anchor="middle" font-weight="bold" font-style="normal" fill="#111" stroke="#111" stroke-width="0.32">High Risk Threshold</text>
<text transform="translate(297.24,744.7) rotate(-90) scale(0.81,1)" font-size="6.4" text-anchor="middle" font-weight="bold" font-style="normal" fill="#111" stroke="#111" stroke-width="0.32">Net Benefit</text>
<rect x="503.5" y="692.9" width="37.8" height="27.6" fill="#fff" stroke="#8a8a8a" stroke-width="0.7"/>
<line x1="508.7" y1="699.8" x2="518.6" y2="699.8" stroke="#ff2a2a" stroke-width="1.3"/>
<text transform="translate(520.9,702.11) scale(0.87,1)" font-size="6.6" text-anchor="start" font-weight="normal" font-style="normal" fill="#1a1a1a" stroke="#1a1a1a" stroke-width="0.05">Model</text>
<line x1="508.7" y1="706.9" x2="518.6" y2="706.9" stroke="#c8c8c8" stroke-width="0.8"/>
<text transform="translate(520.9,709.21) scale(0.87,1)" font-size="6.6" text-anchor="start" font-weight="normal" font-style="normal" fill="#1a1a1a" stroke="#1a1a1a" stroke-width="0.05">All</text>
<line x1="508.7" y1="713.6" x2="518.6" y2="713.6" stroke="#8a8a8a" stroke-width="0.9"/>
<text transform="translate(520.9,715.91) scale(0.87,1)" font-size="6.6" text-anchor="start" font-weight="normal" font-style="normal" fill="#1a1a1a" stroke="#1a1a1a" stroke-width="0.05">None</text>
<text x="283" y="690.4" font-size="9.3" font-weight="bold" fill="#1a1a1a" stroke="#1a1a1a" stroke-width="0.25">J</text>
</svg>
</body></html>
